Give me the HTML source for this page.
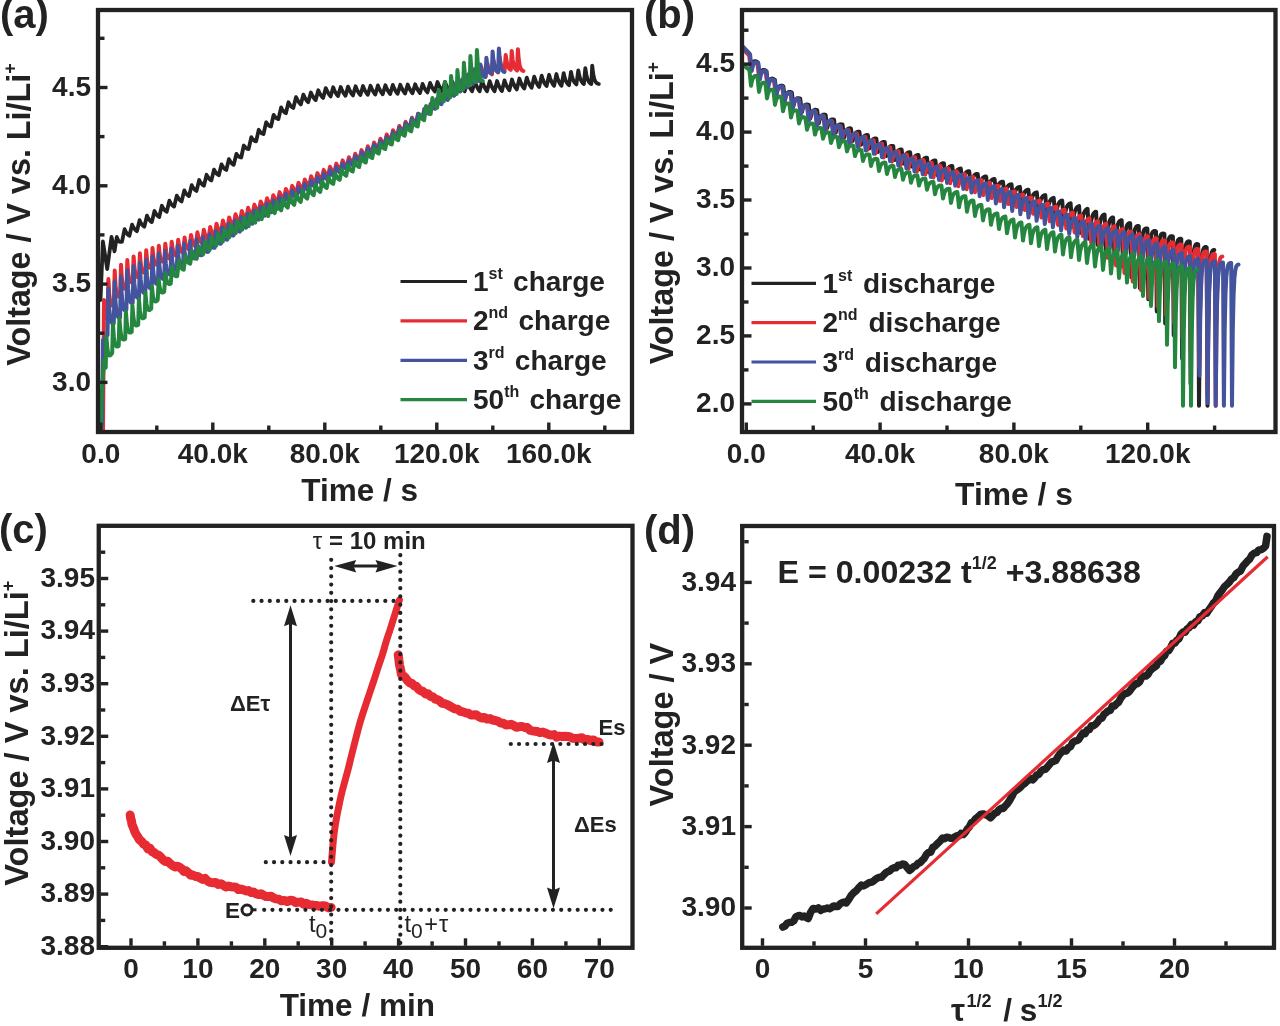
<!DOCTYPE html>
<html><head><meta charset="utf-8"><style>
html,body{margin:0;padding:0;background:#fff;width:1280px;height:1026px;overflow:hidden;position:relative}
text{font-family:"Liberation Sans", sans-serif}
</style></head><body>
<div id="wrap" style="position:absolute;left:0;top:0;width:1280px;height:1026px;will-change:transform">
<svg width="1280" height="1026" viewBox="0 0 1280 1026" style="display:block">
<g font-family='"Liberation Sans", sans-serif' fill="#222">
<defs><clipPath id="ca"><rect x="100" y="12" width="530" height="418"/></clipPath><clipPath id="cb"><rect x="744" y="12" width="529" height="418"/></clipPath></defs>
<g clip-path="url(#ca)">
<path d="M100.5 300.0 L102.9 241.5 L107.2 269.0 L111.5 237.0 L114.5 251.3 L116.8 237.0 L117.6 239.3 L118.5 240.8 L119.4 241.6 L120.2 241.9 L121.1 241.9 L122.0 241.6 L122.0 241.6 L124.6 229.2 L125.4 230.9 L126.2 232.4 L127.0 233.5 L127.8 234.5 L128.6 235.2 L129.4 235.8 L129.4 235.8 L132.1 224.7 L132.9 226.4 L133.7 227.8 L134.5 228.9 L135.3 229.9 L136.1 230.6 L136.9 231.2 L136.9 231.2 L139.6 220.2 L140.3 221.9 L141.1 223.2 L141.9 224.4 L142.7 225.3 L143.5 226.1 L144.3 226.7 L144.3 226.7 L147.0 215.7 L147.8 217.4 L148.6 218.7 L149.4 219.9 L150.2 220.8 L151.0 221.6 L151.8 222.1 L151.8 222.1 L154.5 211.0 L155.2 212.5 L156.0 213.8 L156.8 214.9 L157.6 215.7 L158.4 216.4 L159.2 217.0 L159.2 217.0 L161.9 205.8 L162.7 207.4 L163.5 208.7 L164.3 209.7 L165.1 210.6 L165.9 211.2 L166.7 211.8 L166.7 211.8 L169.4 200.7 L170.1 202.2 L170.9 203.5 L171.7 204.6 L172.5 205.4 L173.3 206.1 L174.1 206.6 L174.1 206.6 L176.8 195.6 L177.6 197.1 L178.4 198.4 L179.2 199.4 L180.0 200.2 L180.8 200.9 L181.6 201.4 L181.6 201.4 L184.3 190.4 L185.0 191.9 L185.8 193.1 L186.6 194.2 L187.4 195.0 L188.2 195.6 L189.0 196.1 L189.0 196.1 L191.7 185.2 L192.5 186.7 L193.3 187.9 L194.1 188.9 L194.9 189.7 L195.7 190.4 L196.5 190.9 L196.5 190.9 L199.2 180.0 L199.9 181.5 L200.7 182.7 L201.5 183.7 L202.3 184.5 L203.1 185.2 L203.9 185.7 L203.9 185.7 L206.6 174.8 L207.4 176.3 L208.2 177.5 L209.0 178.5 L209.8 179.3 L210.6 180.0 L211.4 180.4 L211.4 180.4 L214.0 169.6 L214.8 171.1 L215.6 172.3 L216.4 173.3 L217.2 174.1 L218.0 174.7 L218.8 175.2 L218.8 175.2 L221.5 164.4 L222.3 165.8 L223.1 167.1 L223.9 168.1 L224.7 168.9 L225.5 169.5 L226.3 170.0 L226.3 170.0 L228.9 159.1 L229.7 160.6 L230.5 161.9 L231.3 162.9 L232.1 163.7 L232.9 164.3 L233.7 164.8 L233.7 164.8 L236.4 153.9 L237.2 155.0 L238.0 155.9 L238.8 156.6 L239.6 157.0 L240.4 157.3 L241.2 157.5 L241.2 157.5 L243.8 145.5 L244.6 146.6 L245.4 147.5 L246.2 148.1 L247.0 148.6 L247.8 148.9 L248.6 149.1 L248.6 149.1 L251.3 137.2 L252.1 138.4 L252.9 139.4 L253.7 140.2 L254.5 140.8 L255.3 141.2 L256.1 141.4 L256.1 141.4 L258.7 129.8 L259.5 131.0 L260.3 132.0 L261.1 132.8 L261.9 133.3 L262.7 133.7 L263.5 134.0 L263.5 134.0 L266.2 122.3 L267.0 123.5 L267.8 124.5 L268.6 125.3 L269.4 125.9 L270.2 126.3 L271.0 126.5 L271.0 126.5 L273.6 114.9 L274.4 116.1 L275.2 117.1 L276.0 117.9 L276.8 118.4 L277.6 118.8 L278.4 119.1 L278.4 119.1 L281.1 107.4 L281.9 108.9 L282.7 110.2 L283.5 111.2 L284.3 112.0 L285.1 112.7 L285.9 113.2 L285.9 113.2 L288.5 102.3 L289.3 103.8 L290.1 105.0 L290.9 106.1 L291.7 106.9 L292.5 107.5 L293.3 108.0 L293.3 108.0 L296.0 97.2 L296.8 98.7 L297.6 100.2 L298.4 101.5 L299.2 102.6 L300.0 103.6 L300.8 104.4 L300.8 104.4 L303.4 94.6 L304.2 96.4 L305.0 98.0 L305.8 99.3 L306.6 100.5 L307.4 101.4 L308.2 102.2 L308.2 102.2 L310.9 92.5 L311.7 94.3 L312.5 95.8 L313.3 97.2 L314.1 98.3 L314.9 99.3 L315.7 100.1 L315.7 100.1 L318.3 90.3 L319.1 92.1 L319.9 93.7 L320.7 95.0 L321.5 96.1 L322.3 97.1 L323.1 97.9 L323.1 97.9 L325.8 88.1 L326.6 89.9 L327.4 91.5 L328.2 92.9 L329.0 94.2 L329.8 95.4 L330.6 96.4 L330.6 96.4 L333.2 87.3 L334.0 89.3 L334.8 91.0 L335.6 92.6 L336.4 93.9 L337.2 95.1 L338.0 96.1 L338.0 96.1 L340.7 87.0 L341.5 89.0 L342.3 90.7 L343.1 92.2 L343.9 93.6 L344.7 94.7 L345.5 95.8 L345.5 95.8 L348.1 86.6 L348.9 88.6 L349.7 90.4 L350.5 91.9 L351.3 93.3 L352.1 94.4 L352.9 95.4 L352.9 95.4 L355.6 86.3 L356.4 88.3 L357.2 90.1 L358.0 91.6 L358.8 92.9 L359.6 94.1 L360.4 95.1 L360.4 95.1 L363.0 86.0 L363.8 88.0 L364.6 89.8 L365.4 91.3 L366.2 92.6 L367.0 93.8 L367.8 94.8 L367.8 94.8 L370.5 85.7 L371.3 87.7 L372.1 89.4 L372.9 91.0 L373.7 92.3 L374.5 93.5 L375.3 94.5 L375.3 94.5 L377.9 85.4 L378.7 87.4 L379.5 89.2 L380.3 90.7 L381.1 92.1 L381.9 93.2 L382.7 94.3 L382.7 94.3 L385.4 85.2 L386.2 87.2 L387.0 88.9 L387.8 90.5 L388.6 91.8 L389.4 93.0 L390.2 94.0 L390.2 94.0 L392.8 84.9 L393.6 86.9 L394.4 88.7 L395.2 90.2 L396.0 91.6 L396.8 92.8 L397.6 93.8 L397.6 93.8 L400.3 84.7 L401.1 86.7 L401.9 88.5 L402.7 90.0 L403.5 91.3 L404.3 92.5 L405.1 93.5 L405.1 93.5 L407.7 84.5 L408.5 86.5 L409.3 88.2 L410.1 89.8 L410.9 91.1 L411.7 92.3 L412.5 93.3 L412.5 93.3 L415.2 84.2 L416.0 86.2 L416.8 88.0 L417.6 89.5 L418.4 90.9 L419.2 92.0 L420.0 93.1 L420.0 93.1 L422.6 83.9 L423.4 85.9 L424.2 87.6 L425.0 89.0 L425.8 90.3 L426.6 91.4 L427.4 92.4 L427.4 92.4 L430.1 82.9 L430.9 84.9 L431.7 86.6 L432.5 88.1 L433.3 89.4 L434.1 90.5 L434.9 91.5 L434.9 91.5 L437.5 82.0 L438.3 84.1 L439.1 85.9 L439.9 87.5 L440.7 88.9 L441.5 90.2 L442.3 91.3 L442.3 91.3 L445.0 81.9 L445.8 84.0 L446.6 85.9 L447.4 87.5 L448.2 88.9 L449.0 90.2 L449.8 91.3 L449.8 91.3 L452.4 81.8 L453.2 83.9 L454.0 85.8 L454.8 87.4 L455.6 88.9 L456.4 90.2 L457.2 91.3 L457.2 91.3 L459.9 81.6 L460.7 83.8 L461.5 85.7 L462.3 87.4 L463.1 88.9 L463.9 90.1 L464.7 91.3 L464.7 91.3 L467.3 81.5 L468.1 83.7 L468.9 85.6 L469.7 87.3 L470.5 88.8 L471.3 90.1 L472.1 91.3 L472.1 91.3 L474.8 81.4 L475.6 83.6 L476.4 85.6 L477.2 87.3 L478.0 88.8 L478.8 90.1 L479.6 91.3 L479.6 91.3 L482.2 81.3 L483.0 83.5 L483.8 85.5 L484.6 87.2 L485.4 88.8 L486.2 90.1 L487.0 91.3 L487.0 91.3 L489.7 81.2 L490.5 83.5 L491.3 85.5 L492.1 87.2 L492.9 88.8 L493.7 90.1 L494.5 91.3 L494.5 91.3 L497.1 81.0 L497.9 83.4 L498.7 85.5 L499.5 87.2 L500.3 88.7 L501.1 90.0 L501.9 91.0 L501.9 91.0 L504.5 80.4 L505.3 82.8 L506.1 84.8 L507.0 86.5 L507.8 87.9 L508.6 89.2 L509.4 90.2 L509.4 90.2 L512.0 79.5 L512.8 81.9 L513.6 83.9 L514.4 85.6 L515.2 87.1 L516.0 88.3 L516.8 89.4 L516.8 89.4 L519.4 78.5 L520.2 81.0 L521.0 83.1 L521.8 84.8 L522.6 86.3 L523.5 87.5 L524.3 88.5 L524.3 88.5 L526.8 77.6 L527.6 80.1 L528.4 82.2 L529.3 84.0 L530.1 85.5 L530.9 86.7 L531.7 87.7 L531.7 87.7 L534.2 76.6 L535.1 79.2 L535.9 81.4 L536.7 83.2 L537.5 84.7 L538.3 85.9 L539.2 86.9 L539.2 86.9 L541.7 75.7 L542.5 78.4 L543.3 80.6 L544.1 82.4 L545.0 83.9 L545.8 85.1 L546.6 86.0 L546.6 86.0 L549.1 74.8 L549.9 77.6 L550.7 79.9 L551.6 81.9 L552.4 83.5 L553.2 84.8 L554.1 85.9 L554.1 85.9 L556.4 74.0 L557.2 77.2 L558.1 79.8 L559.0 81.8 L559.8 83.4 L560.7 84.7 L561.5 85.7 L561.5 85.7 L563.7 73.1 L564.6 76.9 L565.4 79.7 L566.3 81.7 L567.2 83.2 L568.1 84.4 L569.0 85.2 L569.0 85.2 L571.0 71.8 L571.9 76.0 L572.8 78.9 L573.7 81.1 L574.6 82.6 L575.5 83.6 L576.4 84.4 L576.4 84.4 L578.3 70.3 L579.2 75.1 L580.1 78.3 L581.1 80.5 L582.0 82.1 L582.9 83.2 L583.9 84.0 L583.9 84.0 L585.3 68.1 L586.3 74.4 L587.3 78.4 L588.3 80.8 L589.3 82.4 L590.3 83.4 L591.3 84.0 L591.3 84.0 L592.2 65.6 L593.3 74.5 L594.4 79.3 L595.5 81.7 L596.6 83.0 L597.7 83.7 L598.8 84.0" fill="none" stroke="#222" stroke-width="3.8" stroke-linejoin="round" stroke-linecap="round" />
<path d="M103.0 434.0 L104.0 300.0 L107.6 318.9 L108.4 278.9 L109.3 294.8 L110.2 301.5 L111.1 304.7 L112.1 305.6 L113.0 305.4 L113.9 304.6 L113.9 304.6 L114.7 270.6 L115.6 285.7 L116.5 292.7 L117.4 295.6 L118.4 296.6 L119.3 296.4 L120.2 295.8 L120.2 295.8 L121.0 264.7 L121.9 278.6 L122.8 285.1 L123.7 287.9 L124.7 288.8 L125.6 288.7 L126.5 288.2 L126.5 288.2 L127.3 260.1 L128.2 272.8 L129.1 278.7 L130.0 281.2 L131.0 282.2 L131.9 282.3 L132.8 281.9 L132.8 281.9 L133.6 256.4 L134.5 268.1 L135.4 273.6 L136.3 276.1 L137.3 277.0 L138.2 277.2 L139.1 276.9 L139.1 276.9 L139.9 253.3 L140.8 264.2 L141.7 269.4 L142.6 271.6 L143.6 272.4 L144.5 272.4 L145.4 272.1 L145.4 272.1 L146.2 250.3 L147.1 260.2 L148.0 264.8 L148.9 267.0 L149.9 267.7 L150.8 268.0 L151.7 267.8 L151.7 267.8 L152.5 247.9 L153.4 257.2 L154.3 261.7 L155.2 263.8 L156.2 264.6 L157.1 264.8 L158.0 264.7 L158.0 264.7 L158.8 245.8 L159.7 254.4 L160.6 258.6 L161.6 260.6 L162.5 261.5 L163.4 261.7 L164.3 261.6 L164.3 261.6 L165.3 243.7 L166.2 251.3 L167.0 255.4 L167.9 257.4 L168.8 258.4 L169.7 258.7 L170.6 258.7 L170.6 258.7 L171.7 241.8 L172.6 248.4 L173.4 252.1 L174.3 254.2 L175.2 255.2 L176.0 255.6 L176.9 255.6 L176.9 255.6 L178.2 239.7 L179.0 245.3 L179.8 248.7 L180.7 250.7 L181.5 251.8 L182.4 252.4 L183.2 252.6 L183.2 252.6 L184.6 237.5 L185.4 242.4 L186.2 245.6 L187.0 247.5 L187.9 248.6 L188.7 249.3 L189.5 249.5 L189.5 249.5 L191.0 234.9 L191.8 239.2 L192.6 242.1 L193.4 244.0 L194.2 245.2 L195.0 245.9 L195.8 246.2 L195.8 246.2 L197.4 232.3 L198.2 236.1 L199.0 238.7 L199.7 240.5 L200.5 241.7 L201.3 242.5 L202.1 243.0 L202.1 243.0 L203.8 229.7 L204.5 233.0 L205.3 235.4 L206.1 237.2 L206.9 238.4 L207.6 239.3 L208.4 239.8 L208.4 239.8 L210.2 226.9 L210.9 229.8 L211.7 232.0 L212.4 233.6 L213.2 234.8 L214.0 235.7 L214.7 236.3 L214.7 236.3 L216.5 223.7 L217.3 226.4 L218.0 228.5 L218.8 230.0 L219.5 231.3 L220.3 232.2 L221.0 232.8 L221.0 232.8 L222.9 220.6 L223.6 223.0 L224.3 225.0 L225.1 226.5 L225.8 227.7 L226.6 228.6 L227.3 229.3 L227.3 229.3 L229.2 217.4 L229.9 219.7 L230.7 221.5 L231.4 223.0 L232.1 224.2 L232.9 225.1 L233.6 225.8 L233.6 225.8 L235.5 214.3 L236.2 216.4 L237.0 218.2 L237.7 219.6 L238.4 220.7 L239.2 221.6 L239.9 222.3 L239.9 222.3 L241.8 211.0 L242.5 213.1 L243.3 214.8 L244.0 216.2 L244.7 217.3 L245.5 218.1 L246.2 218.8 L246.2 218.8 L248.1 207.8 L248.8 209.9 L249.6 211.5 L250.3 212.8 L251.0 213.8 L251.8 214.6 L252.5 215.2 L252.5 215.2 L254.4 204.6 L255.1 206.6 L255.9 208.1 L256.6 209.4 L257.3 210.3 L258.1 211.1 L258.8 211.7 L258.8 211.7 L260.7 201.4 L261.4 203.3 L262.2 204.8 L262.9 206.0 L263.6 206.9 L264.4 207.6 L265.1 208.2 L265.1 208.2 L267.0 198.3 L267.7 200.1 L268.5 201.6 L269.2 202.8 L269.9 203.7 L270.7 204.4 L271.4 205.0 L271.4 205.0 L273.3 195.2 L274.0 197.0 L274.8 198.4 L275.5 199.6 L276.2 200.6 L277.0 201.3 L277.7 201.9 L277.7 201.9 L279.6 192.1 L280.3 193.9 L281.1 195.3 L281.8 196.5 L282.5 197.4 L283.3 198.1 L284.0 198.7 L284.0 198.7 L285.9 189.0 L286.6 190.7 L287.4 192.2 L288.1 193.3 L288.8 194.2 L289.6 195.0 L290.3 195.5 L290.3 195.5 L292.2 185.9 L292.9 187.6 L293.7 189.0 L294.4 190.2 L295.1 191.1 L295.9 191.8 L296.6 192.3 L296.6 192.3 L298.5 182.7 L299.2 184.4 L300.0 185.8 L300.7 186.9 L301.4 187.8 L302.2 188.5 L302.9 189.0 L302.9 189.0 L304.8 179.5 L305.5 181.2 L306.3 182.6 L307.0 183.7 L307.7 184.6 L308.5 185.2 L309.2 185.8 L309.2 185.8 L311.1 176.3 L311.8 178.0 L312.6 179.4 L313.3 180.4 L314.0 181.3 L314.8 182.0 L315.5 182.5 L315.5 182.5 L317.4 173.1 L318.1 174.8 L318.9 176.1 L319.6 177.2 L320.3 178.1 L321.1 178.7 L321.8 179.2 L321.8 179.2 L323.7 169.9 L324.4 171.6 L325.2 172.9 L325.9 174.0 L326.6 174.8 L327.4 175.5 L328.1 176.0 L328.1 176.0 L330.0 166.8 L330.7 168.4 L331.5 169.7 L332.2 170.8 L332.9 171.6 L333.7 172.2 L334.4 172.7 L334.4 172.7 L336.3 163.6 L337.0 165.2 L337.8 166.5 L338.5 167.5 L339.2 168.4 L340.0 169.0 L340.7 169.5 L340.7 169.5 L342.6 160.4 L343.3 162.0 L344.1 163.3 L344.8 164.3 L345.5 165.1 L346.3 165.8 L347.0 166.2 L347.0 166.2 L348.9 157.3 L349.6 158.8 L350.4 160.0 L351.1 161.0 L351.8 161.8 L352.6 162.3 L353.3 162.8 L353.3 162.8 L355.2 153.7 L355.9 155.2 L356.7 156.5 L357.4 157.4 L358.1 158.2 L358.9 158.8 L359.6 159.2 L359.6 159.2 L361.5 150.1 L362.2 151.6 L363.0 152.8 L363.7 153.8 L364.4 154.5 L365.2 155.1 L365.9 155.5 L365.9 155.5 L367.8 146.3 L368.5 147.8 L369.3 149.0 L370.0 150.0 L370.7 150.7 L371.5 151.3 L372.2 151.7 L372.2 151.7 L374.1 142.5 L374.8 144.0 L375.6 145.2 L376.3 146.2 L377.0 146.9 L377.8 147.5 L378.5 147.9 L378.5 147.9 L380.4 138.7 L381.1 140.2 L381.9 141.3 L382.6 142.2 L383.3 142.9 L384.1 143.4 L384.8 143.8 L384.8 143.8 L386.7 134.5 L387.4 135.9 L388.2 137.1 L388.9 138.0 L389.6 138.7 L390.4 139.2 L391.1 139.5 L391.1 139.5 L393.0 130.2 L393.7 131.7 L394.5 132.8 L395.2 133.7 L395.9 134.4 L396.7 134.9 L397.4 135.2 L397.4 135.2 L399.3 126.0 L400.0 127.4 L400.8 128.6 L401.5 129.5 L402.2 130.2 L403.0 130.7 L403.7 131.1 L403.7 131.1 L405.6 121.9 L406.3 123.3 L407.1 124.5 L407.8 125.4 L408.5 126.1 L409.3 126.6 L410.0 127.0 L410.0 127.0 L411.9 117.8 L412.6 119.2 L413.4 120.4 L414.1 121.3 L414.8 122.0 L415.6 122.5 L416.3 122.9 L416.3 122.9 L418.2 113.7 L418.9 115.1 L419.7 116.3 L420.4 117.2 L421.1 117.7 L421.9 118.1 L422.6 118.4 L422.6 118.4 L424.5 108.8 L425.2 110.2 L426.0 111.2 L426.7 112.0 L427.4 112.6 L428.2 113.0 L428.9 113.3 L428.9 113.3 L430.8 103.7 L431.5 105.1 L432.3 106.1 L433.0 106.9 L433.7 107.5 L434.5 107.9 L435.2 108.1 L435.2 108.1 L437.1 98.6 L437.8 100.0 L438.6 101.0 L439.3 101.8 L440.0 102.4 L440.8 102.8 L441.5 103.1 L441.5 103.1 L443.4 93.5 L444.1 94.9 L444.9 96.1 L445.6 97.1 L446.3 97.9 L447.1 98.5 L447.8 98.9 L447.8 98.9 L449.7 89.1 L450.4 90.7 L451.2 92.0 L451.9 93.0 L452.6 93.9 L453.4 94.5 L454.1 95.0 L454.1 95.0 L456.0 84.8 L456.7 86.5 L457.5 87.8 L458.2 89.0 L458.9 89.9 L459.7 90.6 L460.4 91.1 L460.4 91.1 L462.3 80.3 L463.0 82.0 L463.8 83.5 L464.5 84.6 L465.2 85.5 L466.0 86.2 L466.7 86.7 L466.7 86.7 L468.6 75.6 L469.3 77.4 L470.1 78.9 L470.8 80.2 L471.5 81.2 L472.3 82.0 L473.0 82.7 L473.0 82.7 L474.9 70.8 L475.6 72.9 L476.4 74.6 L477.1 76.1 L477.8 77.2 L478.6 78.2 L479.3 78.9 L479.3 78.9 L481.1 66.4 L481.9 69.1 L482.6 71.2 L483.4 73.0 L484.1 74.4 L484.9 75.6 L485.6 76.5 L485.6 76.5 L487.3 63.3 L488.1 66.6 L488.8 69.1 L489.6 71.0 L490.4 72.5 L491.1 73.6 L491.9 74.4 L491.9 74.4 L493.5 60.3 L494.3 64.3 L495.0 67.1 L495.8 69.2 L496.6 70.7 L497.4 71.7 L498.2 72.4 L498.2 72.4 L499.6 57.2 L500.4 62.2 L501.2 65.6 L502.1 67.9 L502.9 69.5 L503.7 70.5 L504.5 71.2 L504.5 71.2 L505.7 55.1 L506.6 61.0 L507.4 64.7 L508.3 67.0 L509.1 68.4 L510.0 69.3 L510.8 69.8 L510.8 69.8 L511.7 50.9 L512.6 59.3 L513.5 64.1 L514.4 67.0 L515.3 68.7 L516.2 69.7 L517.1 70.4 L517.1 70.4 L517.9 49.2 L518.8 59.9 L519.7 65.5 L520.6 68.4 L521.6 69.9 L522.5 70.6 L523.4 71.0" fill="none" stroke="#e62c32" stroke-width="4.0" stroke-linejoin="round" stroke-linecap="round" />
<path d="M102.0 425.0 L103.0 340.0 L107.5 335.2 L108.3 288.7 L109.2 308.0 L110.1 316.4 L111.0 321.0 L112.0 323.0 L112.9 323.6 L113.8 323.4 L113.8 323.4 L114.6 281.5 L115.5 301.1 L116.4 310.8 L117.3 315.3 L118.3 317.2 L119.2 317.7 L120.1 317.5 L120.1 317.5 L120.9 276.6 L121.8 295.8 L122.7 305.1 L123.6 309.1 L124.6 310.4 L125.5 310.4 L126.4 309.8 L126.4 309.8 L127.2 270.3 L128.1 288.2 L129.0 296.6 L129.9 300.7 L130.9 302.5 L131.8 303.1 L132.7 303.0 L132.7 303.0 L133.5 265.9 L134.4 283.4 L135.3 292.0 L136.2 296.0 L137.2 297.6 L138.1 298.1 L139.0 298.0 L139.0 298.0 L139.8 262.8 L140.7 279.4 L141.6 287.4 L142.5 291.2 L143.5 292.7 L144.4 293.1 L145.3 293.0 L145.3 293.0 L146.1 259.7 L147.0 275.4 L147.9 283.0 L148.8 286.6 L149.8 288.0 L150.7 288.5 L151.6 288.3 L151.6 288.3 L152.4 256.6 L153.3 271.5 L154.2 278.7 L155.1 282.1 L156.1 283.5 L157.0 283.8 L157.9 283.6 L157.9 283.6 L158.7 253.5 L159.6 267.6 L160.5 274.4 L161.4 277.5 L162.4 278.7 L163.3 279.0 L164.2 278.8 L164.2 278.8 L165.0 251.0 L165.9 264.0 L166.8 270.2 L167.7 273.1 L168.7 274.2 L169.6 274.4 L170.5 274.1 L170.5 274.1 L171.3 248.5 L172.2 260.4 L173.1 266.1 L174.0 268.6 L175.0 269.6 L175.9 269.7 L176.8 269.4 L176.8 269.4 L177.6 246.0 L178.5 256.8 L179.4 261.9 L180.3 264.2 L181.3 265.2 L182.2 265.4 L183.1 265.3 L183.1 265.3 L183.9 243.5 L184.8 253.6 L185.7 258.5 L186.6 260.8 L187.6 261.6 L188.5 261.9 L189.4 261.7 L189.4 261.7 L190.2 241.1 L191.1 250.8 L192.0 255.4 L192.9 257.5 L193.9 258.4 L194.8 258.6 L195.7 258.4 L195.7 258.4 L196.5 239.0 L197.4 248.0 L198.3 252.4 L199.2 254.4 L200.2 255.1 L201.1 255.3 L202.0 255.1 L202.0 255.1 L202.9 236.8 L203.8 244.8 L204.7 248.8 L205.6 250.8 L206.5 251.7 L207.4 251.9 L208.3 251.8 L208.3 251.8 L209.4 234.3 L210.2 241.1 L211.1 244.8 L212.0 246.7 L212.9 247.6 L213.7 247.8 L214.6 247.8 L214.6 247.8 L215.7 230.8 L216.6 237.0 L217.5 240.5 L218.3 242.4 L219.2 243.4 L220.0 243.7 L220.9 243.7 L220.9 243.7 L222.1 227.4 L223.0 233.0 L223.8 236.3 L224.7 238.2 L225.5 239.2 L226.4 239.6 L227.2 239.7 L227.2 239.7 L228.5 224.0 L229.4 229.0 L230.2 232.1 L231.0 233.9 L231.9 235.0 L232.7 235.5 L233.5 235.6 L233.5 235.6 L234.9 220.6 L235.7 225.0 L236.6 227.9 L237.4 229.7 L238.2 230.8 L239.0 231.4 L239.8 231.6 L239.8 231.6 L241.3 217.2 L242.1 221.1 L242.9 223.8 L243.7 225.5 L244.5 226.6 L245.3 227.3 L246.1 227.6 L246.1 227.6 L247.7 213.8 L248.5 217.3 L249.3 219.7 L250.1 221.4 L250.8 222.5 L251.6 223.2 L252.4 223.6 L252.4 223.6 L254.1 210.5 L254.9 213.4 L255.7 215.6 L256.4 217.2 L257.2 218.4 L257.9 219.1 L258.7 219.6 L258.7 219.6 L260.5 207.1 L261.3 209.6 L262.0 211.6 L262.8 213.1 L263.5 214.2 L264.3 215.1 L265.0 215.7 L265.0 215.7 L266.9 203.7 L267.6 206.0 L268.4 207.8 L269.1 209.3 L269.8 210.5 L270.6 211.4 L271.3 212.2 L271.3 212.2 L273.2 200.4 L273.9 202.6 L274.7 204.4 L275.4 205.9 L276.1 207.0 L276.9 207.9 L277.6 208.6 L277.6 208.6 L279.5 197.1 L280.2 199.3 L281.0 201.0 L281.7 202.4 L282.4 203.5 L283.2 204.4 L283.9 205.1 L283.9 205.1 L285.8 193.8 L286.5 195.9 L287.3 197.6 L288.0 199.0 L288.7 200.0 L289.5 200.9 L290.2 201.6 L290.2 201.6 L292.1 190.5 L292.8 192.5 L293.6 194.2 L294.3 195.5 L295.0 196.5 L295.8 197.4 L296.5 198.0 L296.5 198.0 L298.4 187.1 L299.1 189.1 L299.9 190.7 L300.6 192.0 L301.3 193.0 L302.1 193.8 L302.8 194.4 L302.8 194.4 L304.7 183.7 L305.4 185.7 L306.2 187.2 L306.9 188.5 L307.6 189.5 L308.4 190.2 L309.1 190.8 L309.1 190.8 L311.0 180.4 L311.7 182.2 L312.5 183.7 L313.2 185.0 L313.9 185.9 L314.7 186.6 L315.4 187.2 L315.4 187.2 L317.3 177.0 L318.0 178.8 L318.8 180.3 L319.5 181.4 L320.2 182.4 L321.0 183.1 L321.7 183.6 L321.7 183.6 L323.6 173.6 L324.3 175.4 L325.1 176.8 L325.8 177.9 L326.5 178.8 L327.3 179.5 L328.0 180.0 L328.0 180.0 L329.9 170.2 L330.6 171.9 L331.4 173.3 L332.1 174.4 L332.8 175.3 L333.6 175.9 L334.3 176.4 L334.3 176.4 L336.2 166.9 L336.9 168.5 L337.7 169.9 L338.4 170.9 L339.1 171.7 L339.9 172.4 L340.6 172.8 L340.6 172.8 L342.5 163.5 L343.2 165.1 L344.0 166.4 L344.7 167.4 L345.4 168.2 L346.2 168.8 L346.9 169.2 L346.9 169.2 L348.8 160.1 L349.5 161.6 L350.3 162.8 L351.0 163.7 L351.7 164.5 L352.5 165.0 L353.2 165.4 L353.2 165.4 L355.1 156.2 L355.8 157.7 L356.6 158.9 L357.3 159.9 L358.0 160.6 L358.8 161.1 L359.5 161.5 L359.5 161.5 L361.4 152.4 L362.1 153.9 L362.9 155.1 L363.6 156.0 L364.3 156.7 L365.1 157.3 L365.8 157.7 L365.8 157.7 L367.7 148.5 L368.4 150.0 L369.2 151.2 L369.9 152.1 L370.6 152.8 L371.4 153.4 L372.1 153.8 L372.1 153.8 L374.0 144.6 L374.7 146.1 L375.5 147.3 L376.2 148.2 L376.9 149.0 L377.7 149.5 L378.4 149.9 L378.4 149.9 L380.3 140.7 L381.0 142.2 L381.8 143.4 L382.5 144.4 L383.2 145.1 L384.0 145.6 L384.7 146.0 L384.7 146.0 L386.6 136.9 L387.3 138.4 L388.1 139.5 L388.8 140.4 L389.5 141.0 L390.3 141.5 L391.0 141.8 L391.0 141.8 L392.9 132.4 L393.6 133.8 L394.4 134.9 L395.1 135.8 L395.8 136.4 L396.6 136.9 L397.3 137.2 L397.3 137.2 L399.2 127.8 L399.9 129.2 L400.7 130.3 L401.4 131.2 L402.1 131.8 L402.9 132.3 L403.6 132.6 L403.6 132.6 L405.5 123.2 L406.2 124.6 L407.0 125.7 L407.7 126.6 L408.4 127.2 L409.2 127.7 L409.9 128.0 L409.9 128.0 L411.8 118.6 L412.5 120.0 L413.3 121.1 L414.0 121.9 L414.7 122.6 L415.5 123.0 L416.2 123.3 L416.2 123.3 L418.1 113.9 L418.8 115.3 L419.6 116.3 L420.3 117.2 L421.0 117.8 L421.8 118.2 L422.5 118.5 L422.5 118.5 L424.4 109.1 L425.1 110.4 L425.9 111.5 L426.6 112.3 L427.3 113.0 L428.1 113.4 L428.8 113.7 L428.8 113.7 L430.7 104.2 L431.4 105.6 L432.2 106.7 L432.9 107.5 L433.6 108.1 L434.4 108.5 L435.1 108.8 L435.1 108.8 L437.0 99.4 L437.7 100.8 L438.5 101.8 L439.2 102.7 L439.9 103.3 L440.7 103.8 L441.4 104.2 L441.4 104.2 L443.3 94.5 L444.0 96.0 L444.8 97.3 L445.5 98.2 L446.2 99.0 L447.0 99.6 L447.7 100.0 L447.7 100.0 L449.6 89.5 L450.3 91.2 L451.1 92.5 L451.8 93.7 L452.5 94.5 L453.3 95.2 L454.0 95.8 L454.0 95.8 L455.9 84.4 L456.6 86.3 L457.4 87.8 L458.1 89.1 L458.8 90.1 L459.6 90.9 L460.3 91.5 L460.3 91.5 L462.2 79.3 L462.9 81.4 L463.7 83.1 L464.4 84.5 L465.1 85.7 L465.9 86.6 L466.6 87.3 L466.6 87.3 L468.4 74.3 L469.2 76.8 L469.9 78.7 L470.7 80.4 L471.4 81.8 L472.2 82.9 L472.9 83.8 L472.9 83.8 L474.5 69.3 L475.3 73.1 L476.1 75.9 L476.9 77.9 L477.6 79.4 L478.4 80.4 L479.2 81.1 L479.2 81.1 L480.4 64.5 L481.3 70.2 L482.1 73.5 L483.0 75.4 L483.8 76.4 L484.7 76.9 L485.5 76.9 L485.5 76.9 L486.4 57.7 L487.3 65.6 L488.2 69.8 L489.1 71.9 L490.0 72.8 L490.9 73.0 L491.8 72.9 L491.8 72.9 L492.6 51.4 L493.5 61.1 L494.4 66.2 L495.3 69.1 L496.3 70.6 L497.2 71.4 L498.1 71.9 L498.1 71.9 L498.9 48.4 L499.8 59.9 L500.7 66.0 L501.6 69.1 L502.6 70.7 L503.5 71.6 L504.4 72.0" fill="none" stroke="#44539d" stroke-width="4.0" stroke-linejoin="round" stroke-linecap="round" />
<path d="M100.8 432.0 L101.5 400.0 L104.0 360.0 L105.7 367.8 L106.4 336.4 L107.4 348.6 L108.3 353.9 L109.3 355.6 L110.2 355.4 L111.2 354.3 L112.2 352.8 L112.2 352.8 L112.9 324.1 L113.9 337.0 L114.8 343.0 L115.8 345.6 L116.7 346.5 L117.7 346.4 L118.7 345.9 L118.7 345.9 L119.4 317.9 L120.4 330.4 L121.3 336.3 L122.3 338.8 L123.2 339.5 L124.2 339.4 L125.2 338.9 L125.2 338.9 L125.9 311.7 L126.9 323.8 L127.8 329.5 L128.8 331.9 L129.7 332.6 L130.7 332.5 L131.7 331.9 L131.7 331.9 L132.4 305.5 L133.4 317.2 L134.3 322.6 L135.3 324.9 L136.2 325.5 L137.2 325.3 L138.2 324.7 L138.2 324.7 L138.9 299.1 L139.9 310.3 L140.8 315.5 L141.8 317.7 L142.7 318.3 L143.7 318.0 L144.7 317.4 L144.7 317.4 L145.4 292.6 L146.4 303.3 L147.3 308.1 L148.3 309.8 L149.2 310.1 L150.2 309.6 L151.2 308.7 L151.2 308.7 L151.9 286.1 L152.9 295.6 L153.8 299.8 L154.8 301.3 L155.7 301.4 L156.7 300.9 L157.7 300.0 L157.7 300.0 L158.7 279.4 L159.6 286.8 L160.5 290.6 L161.4 292.2 L162.3 292.6 L163.2 292.3 L164.2 291.7 L164.2 291.7 L165.5 273.1 L166.3 278.6 L167.2 281.7 L168.1 283.2 L168.9 283.9 L169.8 284.0 L170.7 283.7 L170.7 283.7 L172.2 266.8 L173.0 271.0 L173.8 273.6 L174.7 275.2 L175.5 276.0 L176.3 276.3 L177.2 276.3 L177.2 276.3 L178.9 260.6 L179.7 263.8 L180.5 266.2 L181.3 267.8 L182.1 268.8 L182.9 269.4 L183.7 269.7 L183.7 269.7 L185.5 255.6 L186.3 258.2 L187.1 260.2 L187.8 261.6 L188.6 262.7 L189.4 263.3 L190.2 263.7 L190.2 263.7 L192.1 250.9 L192.9 253.1 L193.6 254.8 L194.4 256.2 L195.1 257.2 L195.9 258.1 L196.7 258.7 L196.7 258.7 L198.6 246.3 L199.4 248.5 L200.1 250.2 L200.9 251.6 L201.6 252.6 L202.4 253.5 L203.2 254.1 L203.2 254.1 L205.1 241.8 L205.9 244.0 L206.6 245.8 L207.4 247.2 L208.1 248.3 L208.9 249.2 L209.7 249.9 L209.7 249.9 L211.6 237.6 L212.4 239.8 L213.1 241.6 L213.9 243.0 L214.6 244.2 L215.4 245.0 L216.2 245.7 L216.2 245.7 L218.1 233.5 L218.9 235.7 L219.6 237.4 L220.4 238.9 L221.1 240.0 L221.9 240.9 L222.7 241.6 L222.7 241.6 L224.6 229.3 L225.4 231.5 L226.1 233.3 L226.9 234.7 L227.6 235.8 L228.4 236.7 L229.2 237.4 L229.2 237.4 L231.1 225.1 L231.9 227.3 L232.6 229.1 L233.4 230.5 L234.1 231.7 L234.9 232.5 L235.7 233.2 L235.7 233.2 L237.6 221.2 L238.4 223.4 L239.1 225.3 L239.9 226.8 L240.6 228.0 L241.4 228.9 L242.2 229.7 L242.2 229.7 L244.1 217.7 L244.9 220.0 L245.6 221.8 L246.4 223.3 L247.1 224.5 L247.9 225.4 L248.7 226.1 L248.7 226.1 L250.6 214.3 L251.4 216.5 L252.1 218.3 L252.9 219.8 L253.6 221.0 L254.4 221.9 L255.2 222.6 L255.2 222.6 L257.1 210.9 L257.9 213.1 L258.6 214.9 L259.4 216.3 L260.1 217.5 L260.9 218.4 L261.7 219.1 L261.7 219.1 L263.6 207.5 L264.4 209.6 L265.1 211.5 L265.9 213.0 L266.6 214.2 L267.4 215.2 L268.2 216.0 L268.2 216.0 L270.1 204.7 L270.9 206.9 L271.6 208.7 L272.4 210.2 L273.1 211.4 L273.9 212.4 L274.7 213.2 L274.7 213.2 L276.6 202.0 L277.4 204.2 L278.1 206.0 L278.9 207.5 L279.6 208.7 L280.4 209.6 L281.2 210.4 L281.2 210.4 L283.1 199.3 L283.9 201.5 L284.6 203.2 L285.4 204.7 L286.1 205.9 L286.9 206.8 L287.7 207.6 L287.7 207.6 L289.6 196.6 L290.4 198.7 L291.1 200.5 L291.9 201.9 L292.6 203.1 L293.4 204.0 L294.2 204.8 L294.2 204.8 L296.1 193.9 L296.9 196.0 L297.6 197.8 L298.4 199.2 L299.1 200.3 L299.9 201.2 L300.7 201.9 L300.7 201.9 L302.6 190.9 L303.4 193.0 L304.1 194.6 L304.9 196.0 L305.6 197.1 L306.4 197.9 L307.2 198.6 L307.2 198.6 L309.1 187.8 L309.9 189.8 L310.6 191.4 L311.4 192.7 L312.1 193.8 L312.9 194.6 L313.7 195.2 L313.7 195.2 L315.6 184.6 L316.4 186.6 L317.1 188.2 L317.9 189.5 L318.6 190.5 L319.4 191.3 L320.2 191.9 L320.2 191.9 L322.1 181.3 L322.9 183.2 L323.6 184.7 L324.4 185.8 L325.1 186.7 L325.9 187.4 L326.7 188.0 L326.7 188.0 L328.6 177.4 L329.4 179.2 L330.1 180.7 L330.9 181.8 L331.6 182.7 L332.4 183.4 L333.2 183.9 L333.2 183.9 L335.1 173.4 L335.9 175.2 L336.6 176.7 L337.4 177.8 L338.1 178.7 L338.9 179.3 L339.7 179.8 L339.7 179.8 L341.6 169.5 L342.4 171.2 L343.1 172.7 L343.9 173.8 L344.6 174.6 L345.4 175.3 L346.2 175.8 L346.2 175.8 L348.1 165.5 L348.9 167.3 L349.6 168.6 L350.4 169.7 L351.1 170.5 L351.9 171.1 L352.7 171.5 L352.7 171.5 L354.6 161.3 L355.4 162.9 L356.1 164.2 L356.9 165.2 L357.6 166.0 L358.4 166.6 L359.2 167.0 L359.2 167.0 L361.1 156.9 L361.9 158.5 L362.6 159.8 L363.4 160.8 L364.1 161.5 L364.9 162.1 L365.7 162.5 L365.7 162.5 L367.6 152.6 L368.4 154.2 L369.1 155.4 L369.9 156.4 L370.6 157.1 L371.4 157.6 L372.2 158.0 L372.2 158.0 L374.1 148.3 L374.9 149.8 L375.6 151.0 L376.4 151.9 L377.1 152.6 L377.9 153.1 L378.7 153.5 L378.7 153.5 L380.6 143.9 L381.4 145.4 L382.1 146.6 L382.9 147.5 L383.6 148.2 L384.4 148.6 L385.2 149.0 L385.2 149.0 L387.1 139.6 L387.9 141.0 L388.6 142.2 L389.4 143.0 L390.1 143.7 L390.9 144.2 L391.7 144.5 L391.7 144.5 L393.6 135.0 L394.4 136.5 L395.1 137.6 L395.9 138.5 L396.6 139.2 L397.4 139.7 L398.2 140.1 L398.2 140.1 L400.1 130.4 L400.9 131.9 L401.6 133.1 L402.4 134.0 L403.1 134.8 L403.9 135.3 L404.7 135.7 L404.7 135.7 L406.6 125.7 L407.4 127.3 L408.1 128.5 L408.9 129.5 L409.6 130.3 L410.4 130.9 L411.2 131.3 L411.2 131.3 L413.1 121.1 L413.9 122.7 L414.6 124.0 L415.4 125.0 L416.1 125.8 L416.9 126.2 L417.7 126.4 L417.7 126.4 L419.6 114.4 L420.4 115.9 L421.1 117.2 L421.9 118.2 L422.6 119.0 L423.4 119.7 L424.2 120.1 L424.2 120.1 L426.1 106.0 L426.9 108.1 L427.6 109.8 L428.4 111.2 L429.1 112.3 L429.9 113.2 L430.7 113.9 L430.7 113.9 L432.4 97.9 L433.2 101.0 L434.0 103.4 L434.8 105.1 L435.6 106.3 L436.4 107.1 L437.2 107.6 L437.2 107.6 L438.7 89.9 L439.5 94.4 L440.3 97.5 L441.2 99.4 L442.0 100.5 L442.8 101.1 L443.7 101.3 L443.7 101.3 L444.9 82.1 L445.8 88.6 L446.7 92.6 L447.5 95.0 L448.4 96.4 L449.3 97.1 L450.2 97.4 L450.2 97.4 L451.1 75.9 L452.0 84.9 L453.0 89.7 L453.9 92.2 L454.8 93.4 L455.7 93.9 L456.7 93.9 L456.7 93.9 L457.4 70.0 L458.4 81.0 L459.3 86.3 L460.3 88.7 L461.2 89.7 L462.2 89.8 L463.2 89.6 L463.2 89.6 L463.9 62.8 L464.9 74.9 L465.8 80.9 L466.8 83.8 L467.7 85.1 L468.7 85.5 L469.7 85.4 L469.7 85.4 L470.4 56.1 L471.4 69.6 L472.3 76.4 L473.3 79.8 L474.2 81.3 L475.2 81.8 L476.2 81.9 L476.2 81.9 L476.9 50.0 L477.9 64.9 L478.8 73.0 L479.8 77.2 L480.7 79.3 L481.7 80.4 L482.7 81.0" fill="none" stroke="#25863f" stroke-width="4.0" stroke-linejoin="round" stroke-linecap="round" />
</g>
<rect x="98" y="10" width="534" height="422" fill="none" stroke="#222" stroke-width="4.3"/>
<line x1="100.8" y1="430" x2="100.8" y2="422.5" stroke="#222" stroke-width="3.4"/>
<line x1="212.8" y1="430" x2="212.8" y2="422.5" stroke="#222" stroke-width="3.4"/>
<line x1="324.8" y1="430" x2="324.8" y2="422.5" stroke="#222" stroke-width="3.4"/>
<line x1="436.8" y1="430" x2="436.8" y2="422.5" stroke="#222" stroke-width="3.4"/>
<line x1="548.8" y1="430" x2="548.8" y2="422.5" stroke="#222" stroke-width="3.4"/>
<line x1="156.8" y1="430" x2="156.8" y2="425.5" stroke="#222" stroke-width="3.4"/>
<line x1="268.8" y1="430" x2="268.8" y2="425.5" stroke="#222" stroke-width="3.4"/>
<line x1="380.8" y1="430" x2="380.8" y2="425.5" stroke="#222" stroke-width="3.4"/>
<line x1="492.8" y1="430" x2="492.8" y2="425.5" stroke="#222" stroke-width="3.4"/>
<line x1="604.8" y1="430" x2="604.8" y2="425.5" stroke="#222" stroke-width="3.4"/>
<text x="100.8" y="462.5" font-size="28" text-anchor="middle" font-weight="bold" >0.0</text>
<text x="212.8" y="462.5" font-size="28" text-anchor="middle" font-weight="bold" >40.0k</text>
<text x="324.8" y="462.5" font-size="28" text-anchor="middle" font-weight="bold" >80.0k</text>
<text x="436.8" y="462.5" font-size="28" text-anchor="middle" font-weight="bold" >120.0k</text>
<text x="548.8" y="462.5" font-size="28" text-anchor="middle" font-weight="bold" >160.0k</text>
<line x1="100" y1="382.4" x2="107.5" y2="382.4" stroke="#222" stroke-width="3.4"/>
<line x1="100" y1="284.1" x2="107.5" y2="284.1" stroke="#222" stroke-width="3.4"/>
<line x1="100" y1="185.8" x2="107.5" y2="185.8" stroke="#222" stroke-width="3.4"/>
<line x1="100" y1="87.5" x2="107.5" y2="87.5" stroke="#222" stroke-width="3.4"/>
<line x1="100" y1="333.2" x2="104.5" y2="333.2" stroke="#222" stroke-width="3.4"/>
<line x1="100" y1="234.9" x2="104.5" y2="234.9" stroke="#222" stroke-width="3.4"/>
<line x1="100" y1="136.6" x2="104.5" y2="136.6" stroke="#222" stroke-width="3.4"/>
<line x1="100" y1="38.3" x2="104.5" y2="38.3" stroke="#222" stroke-width="3.4"/>
<text x="91.0" y="390.7" font-size="28" text-anchor="end" font-weight="bold" >3.0</text>
<text x="91.0" y="292.4" font-size="28" text-anchor="end" font-weight="bold" >3.5</text>
<text x="91.0" y="194.1" font-size="28" text-anchor="end" font-weight="bold" >4.0</text>
<text x="91.0" y="95.8" font-size="28" text-anchor="end" font-weight="bold" >4.5</text>
<line x1="400.5" y1="281.5" x2="467" y2="281.5" stroke="#222" stroke-width="3.2"/>
<text x="473" y="291.0" font-size="28" font-weight="bold">1<tspan font-size="16" dy="-12">st</tspan><tspan dy="12" dx="2.5"> charge</tspan></text>
<line x1="400.5" y1="320.9" x2="467" y2="320.9" stroke="#e62c32" stroke-width="3.2"/>
<text x="473" y="330.4" font-size="28" font-weight="bold">2<tspan font-size="16" dy="-12">nd</tspan><tspan dy="12" dx="2.5"> charge</tspan></text>
<line x1="400.5" y1="360.3" x2="467" y2="360.3" stroke="#44539d" stroke-width="3.2"/>
<text x="473" y="369.8" font-size="28" font-weight="bold">3<tspan font-size="16" dy="-12">rd</tspan><tspan dy="12" dx="2.5"> charge</tspan></text>
<line x1="400.5" y1="399.7" x2="467" y2="399.7" stroke="#25863f" stroke-width="3.2"/>
<text x="473" y="409.2" font-size="28" font-weight="bold">50<tspan font-size="16" dy="-12">th</tspan><tspan dy="12" dx="2.5"> charge</tspan></text>
<text x="359.7" y="501.0" font-size="31.5" text-anchor="middle" font-weight="bold" >Time / s</text>
<text transform="translate(30.2,214.5) rotate(-90)" font-size="32.3" font-weight="bold" text-anchor="middle">Voltage / V vs. Li/Li<tspan font-size="18" dy="-14">+</tspan></text>
<text x="0.0" y="27.5" font-size="40" text-anchor="start" font-weight="bold" >(a)</text>
<g clip-path="url(#cb)">
<path d="M743.0 47.0 L749.5 53.7 L751.2 68.4 L752.0 65.0 L752.9 62.9 L753.7 61.8 L754.6 61.3 L755.4 61.2 L756.3 61.4 L757.1 61.9 L758.0 62.4 L758.0 62.4 L759.6 77.0 L760.5 73.7 L761.3 71.6 L762.2 70.5 L763.0 70.0 L763.9 69.9 L764.7 70.1 L765.6 70.6 L766.4 71.1 L766.4 71.1 L768.1 85.6 L768.9 82.3 L769.8 80.3 L770.6 79.2 L771.5 78.7 L772.3 78.6 L773.2 78.9 L774.0 79.3 L774.9 79.9 L774.9 79.9 L776.5 93.8 L777.4 90.3 L778.2 88.0 L779.1 86.7 L779.9 86.0 L780.8 85.7 L781.6 85.7 L782.5 85.8 L783.3 86.2 L783.3 86.2 L785.0 100.0 L785.8 96.5 L786.7 94.3 L787.5 93.0 L788.4 92.2 L789.2 91.9 L790.1 91.9 L790.9 92.1 L791.8 92.5 L791.8 92.5 L793.4 106.2 L794.3 102.7 L795.1 100.5 L796.0 99.2 L796.8 98.5 L797.7 98.2 L798.5 98.2 L799.4 98.4 L800.2 98.7 L800.2 98.7 L801.9 112.4 L802.7 109.0 L803.6 106.8 L804.4 105.5 L805.3 104.8 L806.1 104.5 L807.0 104.5 L807.8 104.7 L808.7 105.0 L808.7 105.0 L810.3 118.6 L811.2 115.0 L812.0 112.7 L812.9 111.2 L813.7 110.4 L814.6 110.0 L815.4 109.8 L816.3 109.9 L817.1 110.1 L817.1 110.1 L818.8 123.3 L819.6 119.8 L820.5 117.5 L821.3 116.0 L822.2 115.2 L823.0 114.8 L823.9 114.6 L824.7 114.7 L825.6 114.9 L825.6 114.9 L827.2 128.1 L828.1 124.5 L828.9 122.2 L829.8 120.8 L830.6 120.0 L831.5 119.6 L832.3 119.5 L833.2 119.5 L834.0 119.7 L834.0 119.7 L835.7 132.8 L836.5 129.3 L837.4 127.0 L838.2 125.6 L839.1 124.8 L839.9 124.4 L840.8 124.3 L841.6 124.4 L842.5 124.5 L842.5 124.5 L844.1 137.6 L845.0 134.1 L845.8 131.7 L846.7 130.2 L847.5 129.2 L848.4 128.7 L849.2 128.4 L850.1 128.3 L850.9 128.4 L850.9 128.4 L852.6 141.1 L853.4 137.5 L854.3 135.1 L855.1 133.6 L856.0 132.6 L856.8 132.1 L857.7 131.8 L858.5 131.7 L859.4 131.7 L859.4 131.7 L861.0 144.7 L861.9 141.0 L862.7 138.6 L863.6 137.0 L864.4 136.0 L865.3 135.5 L866.1 135.2 L867.0 135.1 L867.8 135.1 L867.8 135.1 L869.5 148.4 L870.3 144.6 L871.2 142.1 L872.0 140.5 L872.9 139.5 L873.7 138.9 L874.6 138.6 L875.4 138.5 L876.3 138.5 L876.3 138.5 L877.9 152.0 L878.8 148.1 L879.6 145.6 L880.5 143.9 L881.3 143.0 L882.2 142.4 L883.0 142.1 L883.9 142.0 L884.7 142.1 L884.7 142.1 L886.4 155.9 L887.2 152.0 L888.1 149.5 L888.9 147.8 L889.8 146.8 L890.6 146.2 L891.5 145.9 L892.3 145.9 L893.2 145.9 L893.2 145.9 L894.8 160.0 L895.7 156.0 L896.5 153.4 L897.4 151.7 L898.2 150.6 L899.1 150.0 L899.9 149.7 L900.8 149.6 L901.6 149.5 L901.6 149.5 L903.3 163.6 L904.1 159.4 L905.0 156.6 L905.8 154.8 L906.7 153.6 L907.5 152.9 L908.4 152.5 L909.2 152.3 L910.1 152.3 L910.1 152.3 L911.7 166.6 L912.6 162.3 L913.4 159.5 L914.3 157.6 L915.1 156.4 L916.0 155.7 L916.8 155.3 L917.7 155.0 L918.5 155.0 L918.5 155.0 L920.2 169.5 L921.0 165.2 L921.9 162.3 L922.7 160.4 L923.6 159.2 L924.4 158.4 L925.3 158.0 L926.1 157.8 L927.0 157.7 L927.0 157.7 L928.6 172.3 L929.5 167.9 L930.3 165.0 L931.2 163.1 L932.0 161.9 L932.9 161.2 L933.7 160.7 L934.6 160.5 L935.4 160.4 L935.4 160.4 L937.1 175.0 L937.9 170.7 L938.8 167.8 L939.6 165.9 L940.5 164.6 L941.3 163.9 L942.2 163.5 L943.0 163.2 L943.9 163.2 L943.9 163.2 L945.5 177.7 L946.4 173.4 L947.2 170.5 L948.1 168.6 L948.9 167.4 L949.8 166.6 L950.6 166.2 L951.5 166.0 L952.3 165.9 L952.3 165.9 L954.0 180.5 L954.8 176.1 L955.7 173.2 L956.5 171.3 L957.4 170.1 L958.2 169.4 L959.1 168.9 L959.9 168.7 L960.8 168.6 L960.8 168.6 L962.4 183.2 L963.3 178.8 L964.1 175.9 L965.0 174.0 L965.8 172.8 L966.7 172.0 L967.5 171.5 L968.4 171.3 L969.2 171.2 L969.2 171.2 L970.9 185.8 L971.7 181.4 L972.6 178.5 L973.4 176.6 L974.3 175.4 L975.1 174.6 L976.0 174.2 L976.8 173.9 L977.7 173.9 L977.7 173.9 L979.3 188.4 L980.2 184.0 L981.0 181.1 L981.9 179.2 L982.7 178.0 L983.6 177.2 L984.4 176.8 L985.3 176.5 L986.1 176.5 L986.1 176.5 L987.8 191.0 L988.6 186.6 L989.5 183.7 L990.3 181.8 L991.2 180.6 L992.0 179.8 L992.9 179.4 L993.7 179.1 L994.6 179.1 L994.6 179.1 L996.2 193.6 L997.1 189.2 L997.9 186.3 L998.8 184.4 L999.6 183.2 L1000.5 182.4 L1001.3 182.0 L1002.2 181.8 L1003.0 181.7 L1003.0 181.7 L1004.7 196.7 L1005.5 192.3 L1006.4 189.3 L1007.2 187.3 L1008.1 186.0 L1008.9 185.1 L1009.8 184.7 L1010.6 184.4 L1011.5 184.3 L1011.5 184.3 L1013.1 200.3 L1014.0 195.5 L1014.8 192.3 L1015.7 190.2 L1016.5 188.8 L1017.4 187.9 L1018.2 187.3 L1019.1 187.1 L1019.9 186.9 L1019.9 186.9 L1021.6 204.0 L1022.4 198.9 L1023.3 195.4 L1024.1 193.2 L1025.0 191.7 L1025.8 190.7 L1026.7 190.1 L1027.5 189.8 L1028.4 189.7 L1028.4 189.7 L1030.0 207.7 L1030.9 202.3 L1031.7 198.6 L1032.6 196.2 L1033.4 194.6 L1034.3 193.5 L1035.1 192.9 L1036.0 192.6 L1036.8 192.4 L1036.8 192.4 L1038.5 211.4 L1039.3 205.6 L1040.2 201.8 L1041.0 199.2 L1041.9 197.5 L1042.7 196.4 L1043.6 195.7 L1044.4 195.3 L1045.3 195.1 L1045.3 195.1 L1046.9 215.1 L1047.8 209.0 L1048.6 204.9 L1049.5 202.2 L1050.3 200.4 L1051.2 199.2 L1052.0 198.5 L1052.9 198.1 L1053.7 197.9 L1053.7 197.9 L1055.4 218.8 L1056.2 212.4 L1057.1 208.1 L1057.9 205.2 L1058.8 203.3 L1059.6 202.1 L1060.5 201.3 L1061.3 200.8 L1062.2 200.6 L1062.2 200.6 L1063.8 222.5 L1064.7 215.8 L1065.5 211.3 L1066.4 208.2 L1067.2 206.2 L1068.1 204.9 L1068.9 204.1 L1069.8 203.6 L1070.6 203.3 L1070.6 203.3 L1072.3 226.8 L1073.1 219.7 L1074.0 214.9 L1074.8 211.6 L1075.7 209.4 L1076.5 207.9 L1077.4 207.0 L1078.2 206.4 L1079.1 206.1 L1079.1 206.1 L1079.1 206.1 L1080.7 232.7 L1081.6 224.5 L1082.4 218.9 L1083.3 215.1 L1084.1 212.6 L1085.0 210.9 L1085.8 209.9 L1086.7 209.2 L1087.5 208.8 L1087.5 208.8 L1087.6 208.9 L1089.2 238.8 L1090.0 229.0 L1090.9 222.6 L1091.7 218.3 L1092.6 215.6 L1093.4 213.8 L1094.3 212.7 L1095.1 212.0 L1096.0 211.7 L1096.0 211.7 L1096.1 211.7 L1097.6 244.8 L1098.5 233.5 L1099.3 226.2 L1100.2 221.5 L1101.0 218.5 L1101.9 216.6 L1102.7 215.5 L1103.6 214.9 L1104.4 214.5 L1104.4 214.5 L1104.6 214.6 L1106.1 250.9 L1106.9 237.9 L1107.8 229.7 L1108.6 224.6 L1109.5 221.4 L1110.3 219.5 L1111.2 218.3 L1112.0 217.7 L1112.9 217.4 L1112.9 217.4 L1113.1 217.5 L1114.5 257.0 L1115.4 242.3 L1116.2 233.2 L1117.1 227.6 L1117.9 224.3 L1118.8 222.3 L1119.6 221.2 L1120.5 220.5 L1121.3 220.2 L1121.3 220.2 L1121.7 220.3 L1123.0 266.5 L1123.8 248.2 L1124.7 237.3 L1125.5 230.9 L1126.4 227.2 L1127.2 225.0 L1128.1 223.9 L1128.9 223.3 L1129.8 223.1 L1129.8 223.1 L1130.2 223.2 L1131.4 277.3 L1132.3 253.9 L1133.1 240.8 L1134.0 233.6 L1134.8 229.7 L1135.7 227.6 L1136.5 226.5 L1137.4 226.0 L1138.2 225.9 L1138.2 225.9 L1138.8 226.1 L1139.9 288.1 L1140.7 259.1 L1141.6 243.9 L1142.4 236.0 L1143.3 231.9 L1144.1 229.9 L1145.0 228.9 L1145.8 228.5 L1146.7 228.4 L1146.7 228.4 L1147.4 228.7 L1148.3 299.3 L1149.2 264.0 L1150.0 246.6 L1150.9 238.1 L1151.7 234.0 L1152.6 232.1 L1153.4 231.3 L1154.3 231.0 L1155.1 231.0 L1155.1 231.0 L1156.0 231.3 L1156.8 311.5 L1157.6 269.9 L1158.5 250.2 L1159.3 240.9 L1160.2 236.5 L1161.0 234.6 L1161.9 233.8 L1162.7 233.6 L1163.6 233.6 L1163.6 233.6 L1164.4 233.9 L1165.2 323.4 L1166.1 276.9 L1166.9 254.8 L1167.8 244.4 L1168.6 239.6 L1169.5 237.4 L1170.3 236.5 L1171.2 236.2 L1172.0 236.2 L1172.0 236.2 L1172.9 236.4 L1173.7 335.3 L1174.5 283.8 L1175.4 259.6 L1176.2 248.1 L1177.1 242.7 L1177.9 240.3 L1178.8 239.2 L1179.6 238.8 L1180.5 238.8 L1180.5 238.8 L1181.3 239.0 L1182.1 358.6 L1183.0 296.8 L1183.8 267.2 L1184.7 253.1 L1185.5 246.4 L1186.4 243.3 L1187.2 242.0 L1188.1 241.5 L1188.9 241.3 L1188.9 241.3 L1189.8 241.6 L1190.6 384.1 L1191.4 310.2 L1192.3 274.8 L1193.1 258.0 L1194.0 250.1 L1194.8 246.4 L1195.7 244.7 L1196.5 244.1 L1197.4 244.0 L1197.4 244.0 L1198.2 244.3 L1199.0 405.7 L1199.9 320.6 L1200.7 280.7 L1201.6 262.0 L1202.4 253.4 L1203.3 249.4 L1204.1 247.8 L1205.0 247.1 L1205.8 247.0 L1205.8 247.0 L1206.7 247.3 L1207.5 405.7 L1208.3 322.2 L1209.2 283.0 L1210.0 264.7 L1210.9 256.2 L1211.7 252.4 L1212.6 250.7 L1213.4 250.1 L1214.3 250.0" fill="none" stroke="#222" stroke-width="4.0" stroke-linejoin="round" stroke-linecap="round" />
<path d="M743.0 49.0 L749.2 55.5 L750.9 70.1 L751.7 66.7 L752.6 64.7 L753.4 63.5 L754.2 63.0 L755.1 62.9 L755.9 63.1 L756.7 63.5 L757.5 64.1 L757.5 64.1 L759.2 78.7 L760.0 75.3 L760.9 73.2 L761.7 72.1 L762.5 71.6 L763.4 71.5 L764.2 71.7 L765.0 72.1 L765.8 72.7 L765.8 72.7 L767.5 87.2 L768.3 83.8 L769.2 81.8 L770.0 80.7 L770.8 80.2 L771.7 80.1 L772.5 80.3 L773.3 80.8 L774.1 81.3 L774.1 81.3 L775.8 95.5 L776.6 91.9 L777.5 89.7 L778.3 88.3 L779.1 87.6 L780.0 87.3 L780.8 87.3 L781.6 87.5 L782.4 87.8 L782.4 87.8 L784.1 101.6 L784.9 98.1 L785.8 95.9 L786.6 94.5 L787.4 93.8 L788.3 93.5 L789.1 93.5 L789.9 93.7 L790.7 94.0 L790.7 94.0 L792.4 107.8 L793.2 104.3 L794.1 102.1 L794.9 100.7 L795.7 100.0 L796.6 99.7 L797.4 99.7 L798.2 99.9 L799.0 100.2 L799.0 100.2 L800.7 113.9 L801.5 110.4 L802.4 108.2 L803.2 106.9 L804.0 106.2 L804.9 105.9 L805.7 105.9 L806.5 106.1 L807.3 106.4 L807.3 106.4 L809.0 120.1 L809.8 116.6 L810.7 114.3 L811.5 112.9 L812.3 112.0 L813.2 111.6 L814.0 111.4 L814.8 111.5 L815.6 111.7 L815.6 111.7 L817.3 125.0 L818.1 121.4 L819.0 119.1 L819.8 117.6 L820.6 116.8 L821.5 116.4 L822.3 116.2 L823.1 116.3 L823.9 116.5 L823.9 116.5 L825.6 129.7 L826.4 126.1 L827.3 123.8 L828.1 122.4 L828.9 121.6 L829.8 121.2 L830.6 121.0 L831.4 121.1 L832.2 121.3 L832.2 121.3 L833.9 134.4 L834.7 130.9 L835.6 128.6 L836.4 127.2 L837.2 126.4 L838.1 126.0 L838.9 125.8 L839.7 125.9 L840.5 126.1 L840.5 126.1 L842.2 139.1 L843.0 135.6 L843.9 133.4 L844.7 132.0 L845.5 131.1 L846.4 130.5 L847.2 130.2 L848.0 130.2 L848.8 130.2 L848.8 130.2 L850.5 142.9 L851.3 139.3 L852.2 136.9 L853.0 135.4 L853.8 134.4 L854.7 133.9 L855.5 133.6 L856.3 133.5 L857.1 133.6 L857.1 133.6 L858.8 146.5 L859.6 142.8 L860.5 140.4 L861.3 138.8 L862.1 137.9 L863.0 137.3 L863.8 137.0 L864.6 136.9 L865.4 137.0 L865.4 137.0 L867.1 150.1 L867.9 146.4 L868.8 143.9 L869.6 142.3 L870.4 141.3 L871.3 140.7 L872.1 140.4 L872.9 140.3 L873.7 140.3 L873.7 140.3 L875.4 153.7 L876.2 149.9 L877.1 147.4 L877.9 145.7 L878.7 144.7 L879.6 144.1 L880.4 143.8 L881.2 143.7 L882.0 143.8 L882.0 143.8 L883.7 157.5 L884.5 153.7 L885.4 151.1 L886.2 149.5 L887.0 148.5 L887.9 147.9 L888.7 147.6 L889.5 147.5 L890.3 147.6 L890.3 147.6 L892.0 161.5 L892.8 157.6 L893.7 155.0 L894.5 153.3 L895.3 152.3 L896.2 151.7 L897.0 151.4 L897.8 151.3 L898.6 151.4 L898.6 151.4 L900.3 165.5 L901.1 161.4 L902.0 158.7 L902.8 156.9 L903.6 155.7 L904.5 155.0 L905.3 154.6 L906.1 154.4 L906.9 154.4 L906.9 154.4 L908.6 168.6 L909.4 164.4 L910.3 161.6 L911.1 159.7 L911.9 158.6 L912.8 157.8 L913.6 157.4 L914.4 157.2 L915.2 157.2 L915.2 157.2 L916.9 171.7 L917.7 167.4 L918.6 164.5 L919.4 162.6 L920.2 161.4 L921.1 160.7 L921.9 160.3 L922.7 160.1 L923.5 160.0 L923.5 160.0 L925.2 174.6 L926.0 170.3 L926.9 167.4 L927.7 165.5 L928.5 164.3 L929.4 163.5 L930.2 163.1 L931.0 162.9 L931.8 162.8 L931.8 162.8 L933.5 177.5 L934.3 173.2 L935.2 170.2 L936.0 168.3 L936.8 167.1 L937.7 166.3 L938.5 165.9 L939.3 165.7 L940.1 165.6 L940.1 165.6 L941.8 180.4 L942.6 176.0 L943.5 173.1 L944.3 171.2 L945.1 169.9 L946.0 169.2 L946.8 168.7 L947.6 168.5 L948.4 168.5 L948.4 168.5 L950.1 183.3 L950.9 178.9 L951.8 176.0 L952.6 174.0 L953.4 172.8 L954.3 172.0 L955.1 171.6 L955.9 171.4 L956.7 171.3 L956.7 171.3 L958.4 186.2 L959.2 181.8 L960.1 178.8 L960.9 176.9 L961.7 175.6 L962.6 174.9 L963.4 174.4 L964.2 174.2 L965.0 174.2 L965.0 174.2 L966.7 189.2 L967.5 184.7 L968.4 181.7 L969.2 179.8 L970.0 178.5 L970.9 177.8 L971.7 177.3 L972.5 177.1 L973.3 177.1 L973.3 177.1 L975.0 192.2 L975.8 187.7 L976.7 184.7 L977.5 182.7 L978.3 181.4 L979.2 180.7 L980.0 180.2 L980.8 180.0 L981.6 179.9 L981.6 179.9 L983.3 195.1 L984.1 190.6 L985.0 187.6 L985.8 185.6 L986.6 184.4 L987.5 183.6 L988.3 183.1 L989.1 182.9 L989.9 182.8 L989.9 182.8 L991.6 198.1 L992.4 193.6 L993.3 190.5 L994.1 188.5 L994.9 187.3 L995.8 186.5 L996.6 186.0 L997.4 185.8 L998.2 185.7 L998.2 185.7 L999.9 201.1 L1000.7 196.5 L1001.6 193.5 L1002.4 191.5 L1003.2 190.2 L1004.1 189.4 L1004.9 188.9 L1005.7 188.7 L1006.5 188.6 L1006.5 188.6 L1008.2 204.1 L1009.0 199.5 L1009.9 196.4 L1010.7 194.4 L1011.5 193.1 L1012.4 192.3 L1013.2 191.8 L1014.0 191.6 L1014.8 191.5 L1014.8 191.5 L1016.5 207.0 L1017.3 202.4 L1018.2 199.3 L1019.0 197.3 L1019.8 196.0 L1020.7 195.2 L1021.5 194.8 L1022.3 194.6 L1023.1 194.5 L1023.1 194.5 L1024.8 210.1 L1025.6 205.5 L1026.5 202.4 L1027.3 200.4 L1028.1 199.1 L1029.0 198.3 L1029.8 197.8 L1030.6 197.6 L1031.4 197.5 L1031.4 197.5 L1033.1 213.8 L1033.9 209.0 L1034.8 205.8 L1035.6 203.6 L1036.4 202.2 L1037.3 201.4 L1038.1 200.9 L1038.9 200.6 L1039.7 200.5 L1039.7 200.5 L1041.4 217.5 L1042.2 212.5 L1043.1 209.1 L1043.9 206.8 L1044.7 205.4 L1045.6 204.5 L1046.4 203.9 L1047.2 203.7 L1048.0 203.6 L1048.0 203.6 L1049.7 221.2 L1050.5 216.0 L1051.4 212.4 L1052.2 210.1 L1053.0 208.5 L1053.9 207.6 L1054.7 207.0 L1055.5 206.7 L1056.3 206.6 L1056.3 206.6 L1058.0 224.9 L1058.8 219.4 L1059.7 215.7 L1060.5 213.3 L1061.3 211.7 L1062.2 210.7 L1063.0 210.1 L1063.8 209.7 L1064.6 209.6 L1064.6 209.6 L1066.3 228.6 L1067.1 222.9 L1068.0 219.1 L1068.8 216.5 L1069.6 214.8 L1070.5 213.8 L1071.3 213.1 L1072.1 212.8 L1072.9 212.6 L1072.9 212.6 L1074.6 232.4 L1075.4 226.4 L1076.3 222.4 L1077.1 219.7 L1077.9 218.0 L1078.8 216.9 L1079.6 216.2 L1080.4 215.8 L1081.2 215.6 L1081.2 215.6 L1082.9 236.1 L1083.7 229.9 L1084.6 225.7 L1085.4 223.0 L1086.2 221.2 L1087.1 220.0 L1087.9 219.2 L1088.7 218.7 L1089.5 218.4 L1089.5 218.4 L1091.2 242.7 L1092.0 235.5 L1092.9 230.5 L1093.7 227.0 L1094.5 224.7 L1095.4 223.1 L1096.2 222.1 L1097.0 221.5 L1097.8 221.1 L1097.8 221.1 L1097.9 221.1 L1099.5 250.2 L1100.3 240.9 L1101.2 234.7 L1102.0 230.5 L1102.8 227.8 L1103.7 226.0 L1104.5 224.8 L1105.3 224.1 L1106.1 223.7 L1106.1 223.7 L1106.3 223.8 L1107.8 257.8 L1108.6 246.1 L1109.5 238.5 L1110.3 233.6 L1111.1 230.5 L1112.0 228.6 L1112.8 227.4 L1113.6 226.7 L1114.4 226.3 L1114.4 226.3 L1114.7 226.4 L1116.1 265.4 L1116.9 251.0 L1117.8 242.1 L1118.6 236.6 L1119.4 233.2 L1120.3 231.1 L1121.1 229.9 L1121.9 229.3 L1122.7 229.0 L1122.7 229.0 L1123.0 229.1 L1124.4 273.0 L1125.2 255.8 L1126.1 245.5 L1126.9 239.3 L1127.7 235.7 L1128.6 233.6 L1129.4 232.5 L1130.2 231.9 L1131.0 231.6 L1131.0 231.6 L1131.4 231.7 L1132.7 281.4 L1133.5 260.7 L1134.4 248.8 L1135.2 242.1 L1136.0 238.2 L1136.9 236.1 L1137.7 234.9 L1138.5 234.4 L1139.3 234.1 L1139.3 234.1 L1139.8 234.2 L1141.0 289.9 L1141.8 265.2 L1142.7 251.6 L1143.5 244.1 L1144.3 240.1 L1145.2 238.0 L1146.0 236.9 L1146.8 236.4 L1147.6 236.2 L1147.6 236.2 L1148.2 236.4 L1149.3 298.2 L1150.1 269.2 L1151.0 253.9 L1151.8 246.0 L1152.6 241.9 L1153.5 239.8 L1154.3 238.9 L1155.1 238.4 L1155.9 238.3 L1155.9 238.3 L1156.7 238.5 L1157.6 306.5 L1158.4 272.9 L1159.3 256.1 L1160.1 247.8 L1160.9 243.7 L1161.8 241.7 L1162.6 240.8 L1163.4 240.5 L1164.2 240.4 L1164.2 240.4 L1165.1 240.6 L1165.9 314.8 L1166.7 276.4 L1167.6 258.1 L1168.4 249.5 L1169.2 245.4 L1170.1 243.6 L1170.9 242.8 L1171.7 242.5 L1172.5 242.5 L1172.5 242.5 L1173.4 242.7 L1174.2 323.2 L1175.0 281.6 L1175.9 261.7 L1176.7 252.3 L1177.5 247.8 L1178.4 245.8 L1179.2 245.0 L1180.0 244.7 L1180.8 244.6 L1180.8 244.6 L1181.7 244.8 L1182.5 338.1 L1183.3 289.7 L1184.2 266.6 L1185.0 255.7 L1185.8 250.5 L1186.7 248.2 L1187.5 247.2 L1188.3 246.8 L1189.1 246.7 L1189.1 246.7 L1190.0 246.9 L1190.8 353.0 L1191.6 297.8 L1192.5 271.6 L1193.3 259.1 L1194.1 253.3 L1195.0 250.6 L1195.8 249.4 L1196.6 249.0 L1197.4 248.9 L1197.4 248.9 L1198.3 249.2 L1199.1 368.0 L1199.9 306.1 L1200.8 276.9 L1201.6 263.0 L1202.4 256.4 L1203.3 253.4 L1204.1 252.1 L1204.9 251.5 L1205.7 251.4 L1205.7 251.4 L1206.6 251.7 L1207.4 393.1 L1208.2 319.8 L1209.1 284.7 L1209.9 268.0 L1210.7 260.1 L1211.6 256.4 L1212.4 254.8 L1213.2 254.1 L1214.0 253.9 L1214.0 253.9 L1214.9 254.2 L1215.7 405.7 L1216.5 325.9 L1217.4 288.4 L1218.2 270.9 L1219.0 262.8 L1219.9 259.1 L1220.7 257.5 L1221.5 256.8 L1222.3 256.6" fill="none" stroke="#e62c32" stroke-width="4.0" stroke-linejoin="round" stroke-linecap="round" />
<path d="M743.0 47.0 L750.1 54.5 L751.7 71.1 L752.6 67.1 L753.4 64.6 L754.2 63.1 L755.0 62.4 L755.8 62.2 L756.6 62.3 L757.4 62.7 L758.3 63.2 L758.3 63.2 L759.9 79.6 L760.7 75.6 L761.5 73.2 L762.3 71.7 L763.1 71.0 L763.9 70.8 L764.8 70.9 L765.6 71.3 L766.4 71.8 L766.4 71.8 L768.0 88.1 L768.8 84.2 L769.6 81.7 L770.5 80.3 L771.3 79.6 L772.1 79.4 L772.9 79.6 L773.7 79.9 L774.5 80.4 L774.5 80.4 L776.2 96.3 L777.0 92.1 L777.8 89.5 L778.6 87.9 L779.4 87.0 L780.2 86.5 L781.0 86.4 L781.9 86.6 L782.7 86.9 L782.7 86.9 L784.3 102.4 L785.1 98.3 L785.9 95.7 L786.7 94.1 L787.6 93.2 L788.4 92.8 L789.2 92.7 L790.0 92.9 L790.8 93.2 L790.8 93.2 L792.4 108.5 L793.3 104.5 L794.1 101.9 L794.9 100.4 L795.7 99.5 L796.5 99.1 L797.3 99.0 L798.1 99.1 L799.0 99.4 L799.0 99.4 L800.6 114.7 L801.4 110.7 L802.2 108.2 L803.0 106.6 L803.8 105.7 L804.6 105.4 L805.5 105.3 L806.3 105.4 L807.1 105.7 L807.1 105.7 L808.7 120.8 L809.5 116.8 L810.3 114.3 L811.2 112.6 L812.0 111.7 L812.8 111.1 L813.6 110.9 L814.4 111.0 L815.2 111.1 L815.2 111.1 L816.9 125.7 L817.7 121.7 L818.5 119.1 L819.3 117.5 L820.1 116.5 L820.9 116.0 L821.7 115.8 L822.6 115.8 L823.4 116.0 L823.4 116.0 L825.0 130.4 L825.8 126.4 L826.6 123.9 L827.4 122.3 L828.3 121.4 L829.1 120.9 L829.9 120.7 L830.7 120.7 L831.5 120.9 L831.5 120.9 L833.1 135.0 L834.0 131.2 L834.8 128.7 L835.6 127.1 L836.4 126.2 L837.2 125.7 L838.0 125.6 L838.8 125.6 L839.7 125.8 L839.7 125.8 L841.3 139.7 L842.1 135.9 L842.9 133.5 L843.7 132.0 L844.5 131.1 L845.3 130.6 L846.2 130.3 L847.0 130.2 L847.8 130.2 L847.8 130.2 L849.4 143.7 L850.2 139.8 L851.0 137.3 L851.9 135.7 L852.7 134.7 L853.5 134.1 L854.3 133.8 L855.1 133.7 L855.9 133.8 L855.9 133.8 L857.6 147.0 L858.4 143.2 L859.2 140.8 L860.0 139.2 L860.8 138.2 L861.6 137.6 L862.4 137.3 L863.3 137.3 L864.1 137.3 L864.1 137.3 L865.7 150.4 L866.5 146.7 L867.3 144.2 L868.1 142.7 L869.0 141.7 L869.8 141.1 L870.6 140.9 L871.4 140.8 L872.2 140.9 L872.2 140.9 L873.8 153.7 L874.7 150.1 L875.5 147.7 L876.3 146.1 L877.1 145.2 L877.9 144.7 L878.7 144.4 L879.5 144.4 L880.4 144.4 L880.4 144.4 L882.0 157.3 L882.8 153.7 L883.6 151.4 L884.4 149.9 L885.2 149.0 L886.0 148.5 L886.9 148.3 L887.7 148.3 L888.5 148.4 L888.5 148.4 L890.1 161.3 L890.9 157.7 L891.7 155.4 L892.6 153.9 L893.4 153.0 L894.2 152.5 L895.0 152.3 L895.8 152.3 L896.6 152.4 L896.6 152.4 L898.3 165.4 L899.1 161.8 L899.9 159.4 L900.7 157.8 L901.5 156.8 L902.3 156.1 L903.1 155.8 L904.0 155.6 L904.8 155.6 L904.8 155.6 L906.4 168.5 L907.2 164.7 L908.0 162.2 L908.8 160.6 L909.7 159.5 L910.5 158.9 L911.3 158.6 L912.1 158.4 L912.9 158.4 L912.9 158.4 L914.5 171.4 L915.4 167.6 L916.2 165.0 L917.0 163.4 L917.8 162.3 L918.6 161.7 L919.4 161.3 L920.2 161.2 L921.1 161.2 L921.1 161.2 L922.7 174.2 L923.5 170.4 L924.3 167.8 L925.1 166.2 L925.9 165.1 L926.7 164.5 L927.6 164.1 L928.4 163.9 L929.2 163.9 L929.2 163.9 L930.8 177.1 L931.6 173.2 L932.4 170.7 L933.3 169.0 L934.1 167.9 L934.9 167.2 L935.7 166.9 L936.5 166.7 L937.3 166.7 L937.3 166.7 L939.0 180.0 L939.8 176.1 L940.6 173.5 L941.4 171.8 L942.2 170.7 L943.0 170.0 L943.8 169.7 L944.7 169.5 L945.5 169.5 L945.5 169.5 L947.1 182.9 L947.9 178.9 L948.7 176.3 L949.5 174.6 L950.4 173.5 L951.2 172.8 L952.0 172.4 L952.8 172.3 L953.6 172.2 L953.6 172.2 L955.2 185.7 L956.1 181.7 L956.9 179.1 L957.7 177.4 L958.5 176.3 L959.3 175.6 L960.1 175.2 L960.9 175.0 L961.8 175.0 L961.8 175.0 L963.4 188.9 L964.2 184.9 L965.0 182.1 L965.8 180.3 L966.6 179.2 L967.4 178.5 L968.3 178.1 L969.1 177.9 L969.9 177.8 L969.9 177.8 L971.5 192.6 L972.3 188.2 L973.1 185.3 L974.0 183.4 L974.8 182.1 L975.6 181.4 L976.4 180.9 L977.2 180.7 L978.0 180.6 L978.0 180.6 L979.7 196.2 L980.5 191.6 L981.3 188.5 L982.1 186.4 L982.9 185.1 L983.7 184.2 L984.5 183.8 L985.4 183.5 L986.2 183.4 L986.2 183.4 L987.8 199.9 L988.6 195.0 L989.4 191.7 L990.2 189.5 L991.1 188.0 L991.9 187.1 L992.7 186.6 L993.5 186.3 L994.3 186.2 L994.3 186.2 L995.9 203.5 L996.8 198.4 L997.6 194.9 L998.4 192.5 L999.2 191.0 L1000.0 190.0 L1000.8 189.5 L1001.6 189.1 L1002.5 189.0 L1002.5 189.0 L1004.1 207.2 L1004.9 201.7 L1005.7 198.0 L1006.5 195.6 L1007.3 194.0 L1008.1 192.9 L1009.0 192.3 L1009.8 192.0 L1010.6 191.8 L1010.6 191.8 L1012.2 210.9 L1013.0 205.1 L1013.8 201.2 L1014.7 198.6 L1015.5 196.9 L1016.3 195.8 L1017.1 195.2 L1017.9 194.8 L1018.7 194.7 L1018.7 194.7 L1020.4 214.3 L1021.2 208.4 L1022.0 204.5 L1022.8 201.9 L1023.6 200.2 L1024.4 199.1 L1025.2 198.5 L1026.1 198.2 L1026.9 198.1 L1026.9 198.1 L1028.5 217.6 L1029.3 211.7 L1030.1 207.8 L1030.9 205.2 L1031.8 203.5 L1032.6 202.5 L1033.4 201.8 L1034.2 201.5 L1035.0 201.4 L1035.0 201.4 L1036.6 220.8 L1037.5 215.0 L1038.3 211.1 L1039.1 208.5 L1039.9 206.8 L1040.7 205.8 L1041.5 205.2 L1042.3 204.9 L1043.2 204.8 L1043.2 204.8 L1044.8 224.0 L1045.6 218.2 L1046.4 214.4 L1047.2 211.8 L1048.0 210.2 L1048.8 209.1 L1049.7 208.5 L1050.5 208.2 L1051.3 208.1 L1051.3 208.1 L1052.9 227.3 L1053.7 221.5 L1054.5 217.7 L1055.4 215.1 L1056.2 213.5 L1057.0 212.5 L1057.8 211.9 L1058.6 211.6 L1059.4 211.5 L1059.4 211.5 L1061.1 230.5 L1061.9 224.8 L1062.7 221.0 L1063.5 218.4 L1064.3 216.8 L1065.1 215.8 L1065.9 215.2 L1066.8 214.9 L1067.6 214.8 L1067.6 214.8 L1069.2 233.7 L1070.0 228.1 L1070.8 224.3 L1071.6 221.8 L1072.5 220.2 L1073.3 219.2 L1074.1 218.6 L1074.9 218.3 L1075.7 218.2 L1075.7 218.2 L1077.3 237.0 L1078.2 231.3 L1079.0 227.6 L1079.8 225.1 L1080.6 223.5 L1081.4 222.5 L1082.2 221.9 L1083.0 221.6 L1083.9 221.5 L1083.9 221.5 L1085.5 240.2 L1086.3 234.5 L1087.1 230.6 L1087.9 228.0 L1088.7 226.3 L1089.5 225.2 L1090.4 224.5 L1091.2 224.0 L1092.0 223.8 L1092.0 223.8 L1093.6 242.7 L1094.4 236.9 L1095.2 232.9 L1096.1 230.3 L1096.9 228.5 L1097.7 227.3 L1098.5 226.6 L1099.3 226.2 L1100.1 225.9 L1100.1 225.9 L1101.8 245.3 L1102.6 239.3 L1103.4 235.3 L1104.2 232.5 L1105.0 230.7 L1105.8 229.5 L1106.6 228.7 L1107.5 228.3 L1108.3 228.0 L1108.3 228.0 L1109.9 247.9 L1110.7 241.7 L1111.5 237.6 L1112.3 234.8 L1113.2 232.9 L1114.0 231.7 L1114.8 230.9 L1115.6 230.4 L1116.4 230.2 L1116.4 230.2 L1118.0 250.5 L1118.9 244.2 L1119.7 239.9 L1120.5 237.0 L1121.3 235.1 L1122.1 233.8 L1122.9 233.0 L1123.7 232.5 L1124.6 232.3 L1124.6 232.3 L1126.2 253.1 L1127.0 246.6 L1127.8 242.2 L1128.6 239.3 L1129.4 237.3 L1130.2 236.0 L1131.1 235.2 L1131.9 234.7 L1132.7 234.4 L1132.7 234.4 L1134.3 255.6 L1135.1 249.0 L1135.9 244.5 L1136.8 241.5 L1137.6 239.6 L1138.4 238.4 L1139.2 237.6 L1140.0 237.2 L1140.8 237.0 L1140.8 237.0 L1142.5 260.7 L1143.3 253.6 L1144.1 248.8 L1144.9 245.5 L1145.7 243.3 L1146.5 241.9 L1147.3 241.0 L1148.2 240.5 L1149.0 240.2 L1149.0 240.2 L1149.0 240.2 L1150.6 267.0 L1151.4 258.7 L1152.2 253.2 L1153.0 249.4 L1153.9 246.9 L1154.7 245.3 L1155.5 244.3 L1156.3 243.7 L1157.1 243.3 L1157.1 243.3 L1157.2 243.4 L1158.7 273.2 L1159.6 263.6 L1160.4 257.2 L1161.2 253.0 L1162.0 250.2 L1162.8 248.5 L1163.6 247.4 L1164.4 246.8 L1165.3 246.5 L1165.3 246.5 L1165.4 246.6 L1166.9 279.5 L1167.7 268.3 L1168.5 261.1 L1169.3 256.5 L1170.1 253.5 L1170.9 251.7 L1171.8 250.6 L1172.6 250.0 L1173.4 249.7 L1173.4 249.7 L1173.6 249.8 L1175.0 285.8 L1175.8 273.0 L1176.6 264.9 L1177.5 259.9 L1178.3 256.7 L1179.1 254.8 L1179.9 253.7 L1180.7 253.1 L1181.5 252.9 L1181.5 252.9 L1181.8 252.9 L1183.2 292.0 L1184.0 277.6 L1184.8 268.7 L1185.6 263.2 L1186.4 259.9 L1187.2 258.1 L1188.0 257.1 L1188.9 256.4 L1189.7 256.0 L1189.7 256.0 L1190.3 256.3 L1191.3 323.1 L1192.1 292.8 L1192.9 276.5 L1193.7 267.7 L1194.6 263.2 L1195.4 260.9 L1196.2 259.7 L1197.0 259.1 L1197.8 258.8 L1197.8 258.8 L1198.6 258.9 L1199.4 375.6 L1200.3 316.1 L1201.1 286.6 L1201.9 272.4 L1202.7 265.6 L1203.5 262.5 L1204.3 261.0 L1205.1 260.3 L1206.0 260.1 L1206.0 260.1 L1206.8 260.2 L1207.6 403.1 L1208.4 328.9 L1209.2 292.7 L1210.0 275.7 L1210.8 267.7 L1211.6 264.1 L1212.5 262.4 L1213.3 261.7 L1214.1 261.4 L1214.1 261.4 L1214.9 261.5 L1215.7 405.7 L1216.5 329.6 L1217.3 293.7 L1218.2 276.9 L1219.0 269.0 L1219.8 265.3 L1220.6 263.6 L1221.4 262.8 L1222.2 262.5 L1222.2 262.5 L1223.0 262.5 L1223.9 405.7 L1224.7 330.0 L1225.5 294.3 L1226.3 277.4 L1227.1 269.5 L1227.9 265.8 L1228.7 264.1 L1229.6 263.3 L1230.4 262.9 L1230.4 262.9 L1231.2 263.0 L1232.0 405.7 L1232.8 330.3 L1233.6 294.9 L1234.4 278.3 L1235.3 270.5 L1236.1 267.0 L1236.9 265.4 L1237.7 264.8 L1238.5 264.6" fill="none" stroke="#44539d" stroke-width="4.0" stroke-linejoin="round" stroke-linecap="round" />
<path d="M743.0 64.8 L749.4 70.0 L751.0 85.8 L751.8 81.6 L752.6 79.0 L753.4 77.4 L754.2 76.5 L755.0 76.0 L755.8 76.0 L756.6 76.1 L757.4 76.4 L757.4 76.4 L759.0 91.9 L759.8 87.9 L760.6 85.4 L761.4 83.9 L762.2 83.1 L763.0 82.8 L763.8 82.8 L764.6 83.0 L765.4 83.3 L765.4 83.3 L767.0 98.4 L767.8 94.6 L768.6 92.2 L769.4 90.7 L770.2 90.0 L771.0 89.7 L771.8 89.7 L772.6 89.9 L773.4 90.3 L773.4 90.3 L775.0 104.9 L775.8 101.2 L776.6 98.9 L777.4 97.5 L778.2 96.8 L779.0 96.6 L779.8 96.6 L780.6 96.8 L781.4 97.2 L781.4 97.2 L783.0 111.3 L783.8 107.8 L784.6 105.6 L785.4 104.3 L786.2 103.6 L787.0 103.4 L787.8 103.5 L788.6 103.7 L789.4 104.1 L789.4 104.1 L791.0 117.4 L791.8 114.2 L792.6 112.1 L793.4 111.0 L794.2 110.4 L795.0 110.3 L795.8 110.4 L796.6 110.7 L797.4 111.1 L797.4 111.1 L799.0 123.6 L799.8 120.6 L800.6 118.7 L801.4 117.7 L802.2 117.2 L803.0 117.1 L803.8 117.2 L804.6 117.6 L805.4 118.0 L805.4 118.0 L807.0 129.7 L807.8 126.9 L808.6 125.3 L809.4 124.4 L810.2 123.9 L811.0 123.6 L811.8 123.6 L812.6 123.7 L813.4 123.9 L813.4 123.9 L815.0 134.6 L815.8 131.8 L816.6 130.0 L817.4 128.9 L818.2 128.3 L819.0 128.0 L819.8 128.0 L820.6 128.1 L821.4 128.3 L821.4 128.3 L823.0 138.8 L823.8 136.1 L824.6 134.3 L825.4 133.3 L826.2 132.7 L827.0 132.4 L827.8 132.3 L828.6 132.5 L829.4 132.7 L829.4 132.7 L831.0 143.0 L831.8 140.3 L832.6 138.6 L833.4 137.6 L834.2 137.0 L835.0 136.8 L835.8 136.7 L836.6 136.9 L837.4 137.1 L837.4 137.1 L839.0 147.2 L839.8 144.6 L840.6 142.9 L841.4 141.9 L842.2 141.4 L843.0 141.2 L843.8 141.1 L844.6 141.2 L845.4 141.5 L845.4 141.5 L847.0 151.4 L847.8 148.9 L848.6 147.2 L849.4 146.3 L850.2 145.8 L851.0 145.5 L851.8 145.5 L852.6 145.6 L853.4 145.9 L853.4 145.9 L855.0 156.1 L855.8 153.5 L856.6 151.8 L857.4 150.8 L858.2 150.3 L859.0 150.0 L859.8 150.0 L860.6 150.1 L861.4 150.3 L861.4 150.3 L863.0 161.0 L863.8 158.2 L864.6 156.5 L865.4 155.4 L866.2 154.7 L867.0 154.5 L867.8 154.4 L868.6 154.5 L869.4 154.7 L869.4 154.7 L871.0 166.0 L871.8 163.0 L872.6 161.1 L873.4 159.9 L874.2 159.2 L875.0 158.9 L875.8 158.8 L876.6 158.9 L877.4 159.1 L877.4 159.1 L879.0 170.9 L879.8 167.8 L880.6 165.6 L881.4 164.2 L882.2 163.4 L883.0 162.9 L883.8 162.7 L884.6 162.6 L885.4 162.7 L885.4 162.7 L887.0 174.0 L887.8 170.8 L888.6 168.7 L889.4 167.3 L890.2 166.5 L891.0 166.1 L891.8 165.8 L892.6 165.8 L893.4 165.9 L893.4 165.9 L895.0 176.9 L895.8 173.8 L896.6 171.8 L897.4 170.5 L898.2 169.7 L899.0 169.2 L899.8 169.0 L900.6 169.0 L901.4 169.1 L901.4 169.1 L903.0 179.8 L903.8 176.8 L904.6 174.8 L905.4 173.6 L906.2 172.8 L907.0 172.4 L907.8 172.2 L908.6 172.2 L909.4 172.3 L909.4 172.3 L911.0 182.7 L911.8 179.8 L912.6 177.9 L913.4 176.7 L914.2 176.0 L915.0 175.6 L915.8 175.4 L916.6 175.4 L917.4 175.5 L917.4 175.5 L919.0 185.6 L919.8 182.8 L920.6 181.0 L921.4 179.9 L922.2 179.2 L923.0 178.8 L923.8 178.7 L924.6 178.7 L925.4 178.8 L925.4 178.8 L927.0 189.8 L927.8 186.8 L928.6 184.8 L929.4 183.5 L930.2 182.7 L931.0 182.3 L931.8 182.1 L932.6 182.0 L933.4 182.1 L933.4 182.1 L935.0 194.2 L935.8 190.8 L936.6 188.6 L937.4 187.2 L938.2 186.3 L939.0 185.7 L939.8 185.5 L940.6 185.4 L941.4 185.4 L941.4 185.4 L943.0 198.6 L943.8 194.9 L944.6 192.4 L945.4 190.8 L946.2 189.8 L947.0 189.2 L947.8 188.9 L948.6 188.8 L949.4 188.8 L949.4 188.8 L951.0 202.9 L951.8 198.9 L952.6 196.2 L953.4 194.4 L954.2 193.3 L955.0 192.7 L955.8 192.3 L956.6 192.1 L957.4 192.1 L957.4 192.1 L959.0 207.3 L959.8 203.0 L960.6 200.1 L961.4 198.3 L962.2 197.2 L963.0 196.6 L963.8 196.3 L964.6 196.2 L965.4 196.3 L965.4 196.3 L967.0 211.7 L967.8 207.3 L968.6 204.5 L969.4 202.7 L970.2 201.6 L971.0 200.9 L971.8 200.6 L972.6 200.6 L973.4 200.7 L973.4 200.7 L975.0 216.0 L975.8 211.7 L976.6 208.9 L977.4 207.0 L978.2 205.9 L979.0 205.3 L979.8 205.0 L980.6 204.9 L981.4 205.0 L981.4 205.0 L983.0 220.4 L983.8 216.1 L984.6 213.2 L985.4 211.4 L986.2 210.3 L987.0 209.7 L987.8 209.4 L988.6 209.3 L989.4 209.4 L989.4 209.4 L991.0 224.8 L991.8 220.4 L992.6 217.6 L993.4 215.8 L994.2 214.7 L995.0 214.0 L995.8 213.7 L996.6 213.6 L997.4 213.5 L997.4 213.5 L999.0 229.1 L999.8 224.5 L1000.6 221.5 L1001.4 219.5 L1002.2 218.2 L1003.0 217.4 L1003.8 216.9 L1004.6 216.7 L1005.4 216.6 L1005.4 216.6 L1007.0 233.3 L1007.8 228.4 L1008.6 225.0 L1009.4 222.9 L1010.2 221.4 L1011.0 220.5 L1011.8 220.0 L1012.6 219.7 L1013.4 219.6 L1013.4 219.6 L1015.0 237.5 L1015.8 232.2 L1016.6 228.6 L1017.4 226.2 L1018.2 224.6 L1019.0 223.5 L1019.8 222.9 L1020.6 222.5 L1021.4 222.4 L1021.4 222.4 L1023.0 240.6 L1023.8 235.0 L1024.6 231.3 L1025.4 228.7 L1026.2 227.1 L1027.0 226.0 L1027.8 225.4 L1028.6 225.0 L1029.4 224.8 L1029.4 224.8 L1031.0 243.3 L1031.8 237.7 L1032.6 233.9 L1033.4 231.3 L1034.2 229.6 L1035.0 228.5 L1035.8 227.9 L1036.6 227.5 L1037.4 227.3 L1037.4 227.3 L1039.0 246.1 L1039.8 240.3 L1040.6 236.5 L1041.4 233.9 L1042.2 232.1 L1043.0 231.0 L1043.8 230.4 L1044.6 230.0 L1045.4 229.8 L1045.4 229.8 L1047.0 248.9 L1047.8 243.0 L1048.6 239.1 L1049.4 236.4 L1050.2 234.7 L1051.0 233.5 L1051.8 232.8 L1052.6 232.4 L1053.4 232.2 L1053.4 232.2 L1055.0 251.6 L1055.8 245.7 L1056.6 241.7 L1057.4 239.0 L1058.2 237.2 L1059.0 236.0 L1059.8 235.3 L1060.6 234.9 L1061.4 234.7 L1061.4 234.7 L1063.0 254.4 L1063.8 248.3 L1064.6 244.3 L1065.4 241.5 L1066.2 239.7 L1067.0 238.5 L1067.8 237.8 L1068.6 237.4 L1069.4 237.2 L1069.4 237.2 L1071.0 257.2 L1071.8 251.0 L1072.6 246.9 L1073.4 244.1 L1074.2 242.2 L1075.0 241.1 L1075.8 240.3 L1076.6 239.9 L1077.4 239.7 L1077.4 239.7 L1079.0 259.9 L1079.8 253.7 L1080.6 249.5 L1081.4 246.6 L1082.2 244.8 L1083.0 243.6 L1083.8 242.8 L1084.6 242.4 L1085.4 242.1 L1085.4 242.1 L1087.0 262.9 L1087.8 256.5 L1088.6 252.1 L1089.4 249.1 L1090.2 247.1 L1091.0 245.7 L1091.8 244.9 L1092.6 244.3 L1093.4 244.0 L1093.4 244.0 L1095.0 266.4 L1095.8 259.4 L1096.6 254.7 L1097.4 251.4 L1098.2 249.3 L1099.0 247.8 L1099.8 246.8 L1100.6 246.2 L1101.4 245.9 L1101.4 245.9 L1103.0 269.9 L1103.8 262.4 L1104.6 257.3 L1105.4 253.8 L1106.2 251.4 L1107.0 249.9 L1107.8 248.8 L1108.6 248.2 L1109.4 247.8 L1109.4 247.8 L1109.4 247.8 L1111.0 273.5 L1111.8 265.5 L1112.6 260.0 L1113.4 256.2 L1114.2 253.7 L1115.0 252.0 L1115.8 250.8 L1116.6 250.1 L1117.4 249.7 L1117.4 249.7 L1117.4 249.7 L1119.0 278.0 L1119.8 268.8 L1120.6 262.6 L1121.4 258.5 L1122.2 255.7 L1123.0 253.9 L1123.8 252.7 L1124.6 252.0 L1125.4 251.6 L1125.4 251.6 L1125.5 251.6 L1127.0 282.6 L1127.8 272.1 L1128.6 265.2 L1129.4 260.7 L1130.2 257.7 L1131.0 255.8 L1131.8 254.6 L1132.6 253.9 L1133.4 253.4 L1133.4 253.4 L1133.5 253.5 L1135.0 287.2 L1135.8 275.3 L1136.6 267.7 L1137.4 262.9 L1138.2 259.8 L1139.0 257.9 L1139.8 256.6 L1140.6 255.9 L1141.4 255.5 L1141.4 255.5 L1141.6 255.5 L1143.0 295.9 L1143.8 280.8 L1144.6 271.5 L1145.4 265.7 L1146.2 262.1 L1147.0 259.9 L1147.8 258.7 L1148.6 257.9 L1149.4 257.6 L1149.4 257.6 L1149.8 257.7 L1151.0 306.0 L1151.8 286.5 L1152.6 274.9 L1153.4 268.1 L1154.2 264.2 L1155.0 261.9 L1155.8 260.7 L1156.6 260.0 L1157.4 259.7 L1157.4 259.7 L1158.0 259.8 L1159.0 321.1 L1159.8 293.3 L1160.6 278.2 L1161.4 270.1 L1162.2 265.8 L1163.0 263.6 L1163.8 262.5 L1164.6 262.0 L1165.4 261.8 L1165.4 261.8 L1166.2 262.0 L1167.0 344.8 L1167.8 302.3 L1168.6 281.8 L1169.4 272.0 L1170.2 267.4 L1171.0 265.2 L1171.8 264.3 L1172.6 263.9 L1173.4 263.9 L1173.4 263.9 L1174.2 264.1 L1175.0 367.3 L1175.8 314.8 L1176.6 289.2 L1177.4 276.7 L1178.2 270.7 L1179.0 267.9 L1179.8 266.7 L1180.6 266.1 L1181.4 266.0 L1181.4 266.0 L1182.2 266.2 L1183.0 405.7 L1183.8 332.1 L1184.6 297.6 L1185.4 281.4 L1186.2 273.8 L1187.0 270.4 L1187.8 268.9 L1188.6 268.3 L1189.4 268.1 L1189.4 268.1 L1190.2 268.2 L1191.0 405.7 L1191.8 333.1 L1192.6 299.0 L1193.4 282.9 L1194.2 275.4 L1195.0 272.0 L1195.8 270.4 L1196.6 269.8 L1197.4 269.5" fill="none" stroke="#25863f" stroke-width="4.0" stroke-linejoin="round" stroke-linecap="round" />
</g>
<rect x="742" y="10" width="533.5" height="422" fill="none" stroke="#222" stroke-width="4.3"/>
<line x1="746.3" y1="430" x2="746.3" y2="422.5" stroke="#222" stroke-width="3.4"/>
<line x1="880.1" y1="430" x2="880.1" y2="422.5" stroke="#222" stroke-width="3.4"/>
<line x1="1013.9" y1="430" x2="1013.9" y2="422.5" stroke="#222" stroke-width="3.4"/>
<line x1="1147.7" y1="430" x2="1147.7" y2="422.5" stroke="#222" stroke-width="3.4"/>
<line x1="813.2" y1="430" x2="813.2" y2="425.5" stroke="#222" stroke-width="3.4"/>
<line x1="947.0" y1="430" x2="947.0" y2="425.5" stroke="#222" stroke-width="3.4"/>
<line x1="1080.8" y1="430" x2="1080.8" y2="425.5" stroke="#222" stroke-width="3.4"/>
<line x1="1214.6" y1="430" x2="1214.6" y2="425.5" stroke="#222" stroke-width="3.4"/>
<text x="746.3" y="462.5" font-size="28" text-anchor="middle" font-weight="bold" >0.0</text>
<text x="880.1" y="462.5" font-size="28" text-anchor="middle" font-weight="bold" >40.0k</text>
<text x="1013.9" y="462.5" font-size="28" text-anchor="middle" font-weight="bold" >80.0k</text>
<text x="1147.7" y="462.5" font-size="28" text-anchor="middle" font-weight="bold" >120.0k</text>
<line x1="744" y1="403.9" x2="751.5" y2="403.9" stroke="#222" stroke-width="3.4"/>
<line x1="744" y1="335.9" x2="751.5" y2="335.9" stroke="#222" stroke-width="3.4"/>
<line x1="744" y1="268.0" x2="751.5" y2="268.0" stroke="#222" stroke-width="3.4"/>
<line x1="744" y1="200.0" x2="751.5" y2="200.0" stroke="#222" stroke-width="3.4"/>
<line x1="744" y1="132.1" x2="751.5" y2="132.1" stroke="#222" stroke-width="3.4"/>
<line x1="744" y1="64.1" x2="751.5" y2="64.1" stroke="#222" stroke-width="3.4"/>
<line x1="744" y1="369.9" x2="748.5" y2="369.9" stroke="#222" stroke-width="3.4"/>
<line x1="744" y1="302.0" x2="748.5" y2="302.0" stroke="#222" stroke-width="3.4"/>
<line x1="744" y1="234.0" x2="748.5" y2="234.0" stroke="#222" stroke-width="3.4"/>
<line x1="744" y1="166.1" x2="748.5" y2="166.1" stroke="#222" stroke-width="3.4"/>
<line x1="744" y1="98.1" x2="748.5" y2="98.1" stroke="#222" stroke-width="3.4"/>
<line x1="744" y1="30.2" x2="748.5" y2="30.2" stroke="#222" stroke-width="3.4"/>
<text x="735.0" y="412.2" font-size="28" text-anchor="end" font-weight="bold" >2.0</text>
<text x="735.0" y="344.2" font-size="28" text-anchor="end" font-weight="bold" >2.5</text>
<text x="735.0" y="276.3" font-size="28" text-anchor="end" font-weight="bold" >3.0</text>
<text x="735.0" y="208.3" font-size="28" text-anchor="end" font-weight="bold" >3.5</text>
<text x="735.0" y="140.4" font-size="28" text-anchor="end" font-weight="bold" >4.0</text>
<text x="735.0" y="72.4" font-size="28" text-anchor="end" font-weight="bold" >4.5</text>
<line x1="751.5" y1="283.4" x2="816" y2="283.4" stroke="#222" stroke-width="3.2"/>
<text x="822.5" y="292.9" font-size="28" font-weight="bold">1<tspan font-size="16" dy="-12">st</tspan><tspan dy="12" dx="3"> discharge</tspan></text>
<line x1="751.5" y1="322.7" x2="816" y2="322.7" stroke="#e62c32" stroke-width="3.2"/>
<text x="822.5" y="332.2" font-size="28" font-weight="bold">2<tspan font-size="16" dy="-12">nd</tspan><tspan dy="12" dx="3"> discharge</tspan></text>
<line x1="751.5" y1="362.0" x2="816" y2="362.0" stroke="#44539d" stroke-width="3.2"/>
<text x="822.5" y="371.5" font-size="28" font-weight="bold">3<tspan font-size="16" dy="-12">rd</tspan><tspan dy="12" dx="3"> discharge</tspan></text>
<line x1="751.5" y1="401.3" x2="816" y2="401.3" stroke="#25863f" stroke-width="3.2"/>
<text x="822.5" y="410.8" font-size="28" font-weight="bold">50<tspan font-size="16" dy="-12">th</tspan><tspan dy="12" dx="3"> discharge</tspan></text>
<text x="1014.0" y="504.5" font-size="31.8" text-anchor="middle" font-weight="bold" >Time / s</text>
<text transform="translate(673,213.1) rotate(-90)" font-size="32.3" font-weight="bold" text-anchor="middle">Voltage / V vs. Li/Li<tspan font-size="18" dy="-14">+</tspan></text>
<text x="644.0" y="27.5" font-size="40" text-anchor="start" font-weight="bold" >(b)</text>
<rect x="98.75" y="525.8" width="533.75" height="422.0" fill="none" stroke="#222" stroke-width="4.3"/>
<line x1="131.0" y1="945.8" x2="131.0" y2="938.3" stroke="#222" stroke-width="3.4"/>
<line x1="197.9" y1="945.8" x2="197.9" y2="938.3" stroke="#222" stroke-width="3.4"/>
<line x1="264.8" y1="945.8" x2="264.8" y2="938.3" stroke="#222" stroke-width="3.4"/>
<line x1="331.7" y1="945.8" x2="331.7" y2="938.3" stroke="#222" stroke-width="3.4"/>
<line x1="398.6" y1="945.8" x2="398.6" y2="938.3" stroke="#222" stroke-width="3.4"/>
<line x1="465.5" y1="945.8" x2="465.5" y2="938.3" stroke="#222" stroke-width="3.4"/>
<line x1="532.4" y1="945.8" x2="532.4" y2="938.3" stroke="#222" stroke-width="3.4"/>
<line x1="599.3" y1="945.8" x2="599.3" y2="938.3" stroke="#222" stroke-width="3.4"/>
<line x1="164.4" y1="945.8" x2="164.4" y2="941.3" stroke="#222" stroke-width="3.4"/>
<line x1="231.4" y1="945.8" x2="231.4" y2="941.3" stroke="#222" stroke-width="3.4"/>
<line x1="298.2" y1="945.8" x2="298.2" y2="941.3" stroke="#222" stroke-width="3.4"/>
<line x1="365.1" y1="945.8" x2="365.1" y2="941.3" stroke="#222" stroke-width="3.4"/>
<line x1="432.1" y1="945.8" x2="432.1" y2="941.3" stroke="#222" stroke-width="3.4"/>
<line x1="499.0" y1="945.8" x2="499.0" y2="941.3" stroke="#222" stroke-width="3.4"/>
<line x1="565.9" y1="945.8" x2="565.9" y2="941.3" stroke="#222" stroke-width="3.4"/>
<text x="131.0" y="978.0" font-size="28" text-anchor="middle" font-weight="bold" >0</text>
<text x="197.9" y="978.0" font-size="28" text-anchor="middle" font-weight="bold" >10</text>
<text x="264.8" y="978.0" font-size="28" text-anchor="middle" font-weight="bold" >20</text>
<text x="331.7" y="978.0" font-size="28" text-anchor="middle" font-weight="bold" >30</text>
<text x="398.6" y="978.0" font-size="28" text-anchor="middle" font-weight="bold" >40</text>
<text x="465.5" y="978.0" font-size="28" text-anchor="middle" font-weight="bold" >50</text>
<text x="532.4" y="978.0" font-size="28" text-anchor="middle" font-weight="bold" >60</text>
<text x="599.3" y="978.0" font-size="28" text-anchor="middle" font-weight="bold" >70</text>
<line x1="100.75" y1="946.7" x2="108.25" y2="946.7" stroke="#222" stroke-width="3.4"/>
<line x1="100.75" y1="894.1" x2="108.25" y2="894.1" stroke="#222" stroke-width="3.4"/>
<line x1="100.75" y1="841.5" x2="108.25" y2="841.5" stroke="#222" stroke-width="3.4"/>
<line x1="100.75" y1="788.9" x2="108.25" y2="788.9" stroke="#222" stroke-width="3.4"/>
<line x1="100.75" y1="736.3" x2="108.25" y2="736.3" stroke="#222" stroke-width="3.4"/>
<line x1="100.75" y1="683.7" x2="108.25" y2="683.7" stroke="#222" stroke-width="3.4"/>
<line x1="100.75" y1="631.1" x2="108.25" y2="631.1" stroke="#222" stroke-width="3.4"/>
<line x1="100.75" y1="578.5" x2="108.25" y2="578.5" stroke="#222" stroke-width="3.4"/>
<line x1="100.75" y1="920.4" x2="105.25" y2="920.4" stroke="#222" stroke-width="3.4"/>
<line x1="100.75" y1="867.8" x2="105.25" y2="867.8" stroke="#222" stroke-width="3.4"/>
<line x1="100.75" y1="815.2" x2="105.25" y2="815.2" stroke="#222" stroke-width="3.4"/>
<line x1="100.75" y1="762.6" x2="105.25" y2="762.6" stroke="#222" stroke-width="3.4"/>
<line x1="100.75" y1="710.0" x2="105.25" y2="710.0" stroke="#222" stroke-width="3.4"/>
<line x1="100.75" y1="657.4" x2="105.25" y2="657.4" stroke="#222" stroke-width="3.4"/>
<line x1="100.75" y1="604.8" x2="105.25" y2="604.8" stroke="#222" stroke-width="3.4"/>
<line x1="100.75" y1="552.2" x2="105.25" y2="552.2" stroke="#222" stroke-width="3.4"/>
<text x="95.0" y="955.0" font-size="28" text-anchor="end" font-weight="bold" >3.88</text>
<text x="95.0" y="902.4" font-size="28" text-anchor="end" font-weight="bold" >3.89</text>
<text x="95.0" y="849.8" font-size="28" text-anchor="end" font-weight="bold" >3.90</text>
<text x="95.0" y="797.2" font-size="28" text-anchor="end" font-weight="bold" >3.91</text>
<text x="95.0" y="744.6" font-size="28" text-anchor="end" font-weight="bold" >3.92</text>
<text x="95.0" y="692.0" font-size="28" text-anchor="end" font-weight="bold" >3.93</text>
<text x="95.0" y="639.4" font-size="28" text-anchor="end" font-weight="bold" >3.94</text>
<text x="95.0" y="586.8" font-size="28" text-anchor="end" font-weight="bold" >3.95</text>
<path d="M130.2 815.0 L130.8 819.0 L131.4 820.5 L132.0 824.5 L133.0 826.8 L134.0 829.4 L135.0 832.2 L136.4 834.8 L137.9 837.0 L139.3 839.5 L141.5 841.4 L143.7 844.1 L145.8 845.1 L148.0 848.9 L150.1 848.4 L152.1 851.6 L154.2 852.6 L156.3 854.5 L158.3 855.1 L160.4 856.8 L162.8 859.6 L165.3 861.5 L167.7 861.3 L170.1 863.6 L172.6 865.5 L175.0 866.9 L177.2 866.2 L179.5 867.2 L181.7 868.7 L183.9 871.5 L186.1 870.8 L188.4 872.8 L190.6 875.2 L193.0 875.1 L195.4 876.4 L197.8 876.4 L200.2 878.1 L202.6 879.4 L205.0 878.3 L207.6 881.0 L210.3 882.4 L212.9 882.7 L215.5 882.4 L218.2 884.5 L220.8 883.7 L223.3 885.2 L225.9 886.9 L228.4 886.1 L230.9 886.7 L233.5 887.0 L236.0 887.3 L238.5 889.6 L241.0 889.1 L243.5 889.8 L246.0 891.0 L248.5 890.6 L251.0 892.5 L253.5 892.1 L256.0 893.7 L258.5 894.6 L261.0 893.8 L263.5 895.2 L266.0 896.5 L268.6 896.4 L271.1 896.2 L273.6 898.0 L276.2 898.9 L278.8 899.2 L281.3 900.9 L284.2 900.4 L287.2 901.6 L290.1 900.2 L293.1 900.7 L296.0 902.7 L298.6 902.2 L301.2 902.0 L303.8 904.2 L306.3 903.2 L308.9 904.6 L311.5 904.9 L314.3 905.7 L317.1 905.6 L319.9 906.3 L322.7 905.8 L325.5 906.0 L328.3 907.9 L331.1 907.4" fill="none" stroke="#e62c32" stroke-width="9" stroke-linejoin="round" stroke-linecap="round" />
<path d="M331.5 862.0 C331.9 857.5 333.0 842.8 333.9 835.0 C334.8 827.2 335.6 822.6 337.0 815.4 C338.4 808.2 340.2 799.3 342.0 792.0 C343.8 784.7 345.8 778.0 347.5 771.6 C349.2 765.2 350.5 759.4 352.0 753.5 C353.5 747.6 354.9 741.9 356.3 736.5 C357.7 731.1 359.0 726.0 360.5 721.0 C362.0 716.0 363.6 711.3 365.1 706.7 C366.6 702.1 368.0 697.9 369.5 693.5 C371.0 689.1 372.4 684.8 373.9 680.4 C375.3 676.0 376.8 671.4 378.2 667.0 C379.6 662.6 381.3 658.2 382.6 654.0 C383.9 649.8 384.9 645.8 386.1 641.8 C387.3 637.8 388.5 634.6 390.0 630.0 C391.5 625.4 393.4 619.0 395.0 614.0 C396.6 609.0 398.7 602.3 399.4 600.0" fill="none" stroke="#e62c32" stroke-width="7" stroke-linejoin="round" stroke-linecap="round"/>
<path d="M398.2 654.8 L398.5 656.4 L398.9 660.1 L399.2 662.3 L399.5 664.8 L400.1 667.7 L400.8 670.5 L401.4 674.6 L403.5 676.0 L405.7 678.1 L407.9 681.1 L410.0 683.1 L412.1 683.5 L414.3 685.8 L416.4 686.4 L418.6 689.3 L420.8 690.8 L422.9 691.4 L425.4 693.9 L427.9 693.7 L430.5 696.4 L433.0 697.0 L435.3 699.1 L437.5 699.6 L439.8 700.9 L442.0 703.3 L444.3 703.6 L447.0 704.5 L449.6 706.0 L452.3 707.5 L455.0 708.9 L457.7 709.3 L460.4 711.3 L463.0 711.9 L465.7 712.9 L468.3 713.3 L470.9 714.9 L473.4 715.0 L476.0 714.7 L478.8 716.7 L481.6 718.0 L484.4 717.5 L487.2 719.1 L489.9 718.6 L492.6 720.0 L495.3 720.5 L498.0 721.3 L500.6 723.0 L503.3 723.2 L506.0 725.0 L508.6 724.8 L511.2 724.3 L513.8 725.5 L516.4 727.3 L519.0 726.8 L521.8 726.4 L524.5 727.4 L527.2 727.5 L530.0 730.2 L532.5 730.9 L535.0 731.2 L537.5 731.5 L540.0 732.6 L542.9 732.1 L545.8 733.2 L548.6 734.6 L551.5 735.1 L554.1 734.6 L556.8 737.1 L559.4 736.1 L562.0 736.5 L564.8 736.3 L567.5 736.4 L570.2 737.0 L573.0 738.3 L576.0 738.6 L579.0 738.2 L582.0 737.8 L585.0 740.2 L587.8 739.4 L590.6 740.7 L593.4 739.9 L596.2 741.9 L599.0 742.0" fill="none" stroke="#e62c32" stroke-width="9" stroke-linejoin="round" stroke-linecap="round" />
<line x1="264.2" y1="909.8" x2="617.0" y2="909.8" stroke="#222" stroke-width="4.2" stroke-dasharray="0 8.25" stroke-linecap="round"/>
<line x1="331.2" y1="559.8" x2="331.2" y2="945.0" stroke="#222" stroke-width="4.2" stroke-dasharray="0 8.25" stroke-linecap="round"/>
<line x1="400.3" y1="555.2" x2="400.3" y2="945.0" stroke="#222" stroke-width="4.2" stroke-dasharray="0 8.25" stroke-linecap="round"/>
<line x1="253.3" y1="600.9" x2="400.0" y2="600.9" stroke="#222" stroke-width="4.2" stroke-dasharray="0 8.25" stroke-linecap="round"/>
<line x1="265.8" y1="862.2" x2="331.0" y2="862.2" stroke="#222" stroke-width="4.2" stroke-dasharray="0 8.25" stroke-linecap="round"/>
<line x1="510.8" y1="744.0" x2="607.2" y2="744.0" stroke="#222" stroke-width="4.2" stroke-dasharray="0 8.25" stroke-linecap="round"/>
<line x1="290.5" y1="620" x2="290.5" y2="842" stroke="#222" stroke-width="3"/>
<path d="M290.5 605.2 L297.0 626.2 L290.5 623.7 L284.0 626.2 Z" fill="#222"/>
<path d="M290.5 856.0 L284.0 835.0 L290.5 837.5 L297.0 835.0 Z" fill="#222"/>
<line x1="553.5" y1="758" x2="553.5" y2="894" stroke="#222" stroke-width="3"/>
<path d="M553.5 742.0 L560.0 763.0 L553.5 760.5 L547.0 763.0 Z" fill="#222"/>
<path d="M553.5 908.5 L547.0 887.5 L553.5 890.0 L560.0 887.5 Z" fill="#222"/>
<line x1="348" y1="566.1" x2="384" y2="566.1" stroke="#222" stroke-width="3"/>
<path d="M334.2 566.1 L356.2 559.9 L353.6 566.1 L356.2 572.4 Z" fill="#222"/>
<path d="M397.5 566.1 L375.5 572.4 L378.1 566.1 L375.5 559.9 Z" fill="#222"/>
<text x="369.3" y="548.5" font-size="24" text-anchor="middle" font-weight="bold" ><tspan font-weight="normal">τ</tspan> = 10 min</text>
<text x="225.0" y="918.0" font-size="22.5" text-anchor="start" font-weight="bold" >E</text>
<circle cx="247" cy="910" r="5" fill="none" stroke="#222" stroke-width="3"/>
<line x1="251.5" y1="909.8" x2="256.5" y2="909.8" stroke="#222" stroke-width="3"/>
<text x="309.0" y="932.0" font-size="23.5" text-anchor="start" font-weight="normal" >t<tspan font-size="21" dy="6">0</tspan></text>
<text x="404.5" y="932.0" font-size="23.5" text-anchor="start" font-weight="normal" >t<tspan font-size="21" dy="6">0</tspan><tspan dy="-6" dx="1.5">+</tspan><tspan dx="1">τ</tspan></text>
<text x="230.0" y="711.0" font-size="22" text-anchor="start" font-weight="bold" >ΔEτ</text>
<text x="598.6" y="735.4" font-size="22" text-anchor="start" font-weight="bold" >Es</text>
<text x="574.0" y="832.0" font-size="22" text-anchor="start" font-weight="bold" >ΔEs</text>
<text x="357.3" y="1016.4" font-size="31.5" text-anchor="middle" font-weight="bold" >Time / min</text>
<text transform="translate(28.2,733.2) rotate(-90)" font-size="32.6" font-weight="bold" text-anchor="middle">Voltage / V vs. Li/Li<tspan font-size="18" dy="-14">+</tspan></text>
<text x="-1.0" y="542.5" font-size="40" text-anchor="start" font-weight="bold" >(c)</text>
<rect x="742.2" y="526" width="531.8" height="421.79999999999995" fill="none" stroke="#222" stroke-width="4.3"/>
<line x1="762.5" y1="945.8" x2="762.5" y2="938.3" stroke="#222" stroke-width="3.4"/>
<line x1="865.5" y1="945.8" x2="865.5" y2="938.3" stroke="#222" stroke-width="3.4"/>
<line x1="968.5" y1="945.8" x2="968.5" y2="938.3" stroke="#222" stroke-width="3.4"/>
<line x1="1071.5" y1="945.8" x2="1071.5" y2="938.3" stroke="#222" stroke-width="3.4"/>
<line x1="1174.5" y1="945.8" x2="1174.5" y2="938.3" stroke="#222" stroke-width="3.4"/>
<line x1="814.0" y1="945.8" x2="814.0" y2="941.3" stroke="#222" stroke-width="3.4"/>
<line x1="917.0" y1="945.8" x2="917.0" y2="941.3" stroke="#222" stroke-width="3.4"/>
<line x1="1020.0" y1="945.8" x2="1020.0" y2="941.3" stroke="#222" stroke-width="3.4"/>
<line x1="1123.0" y1="945.8" x2="1123.0" y2="941.3" stroke="#222" stroke-width="3.4"/>
<line x1="1226.0" y1="945.8" x2="1226.0" y2="941.3" stroke="#222" stroke-width="3.4"/>
<text x="762.5" y="977.5" font-size="28" text-anchor="middle" font-weight="bold" >0</text>
<text x="865.5" y="977.5" font-size="28" text-anchor="middle" font-weight="bold" >5</text>
<text x="968.5" y="977.5" font-size="28" text-anchor="middle" font-weight="bold" >10</text>
<text x="1071.5" y="977.5" font-size="28" text-anchor="middle" font-weight="bold" >15</text>
<text x="1174.5" y="977.5" font-size="28" text-anchor="middle" font-weight="bold" >20</text>
<line x1="744.2" y1="908.0" x2="751.7" y2="908.0" stroke="#222" stroke-width="3.4"/>
<line x1="744.2" y1="826.6" x2="751.7" y2="826.6" stroke="#222" stroke-width="3.4"/>
<line x1="744.2" y1="745.2" x2="751.7" y2="745.2" stroke="#222" stroke-width="3.4"/>
<line x1="744.2" y1="663.8" x2="751.7" y2="663.8" stroke="#222" stroke-width="3.4"/>
<line x1="744.2" y1="582.4" x2="751.7" y2="582.4" stroke="#222" stroke-width="3.4"/>
<line x1="744.2" y1="867.3" x2="748.7" y2="867.3" stroke="#222" stroke-width="3.4"/>
<line x1="744.2" y1="785.9" x2="748.7" y2="785.9" stroke="#222" stroke-width="3.4"/>
<line x1="744.2" y1="704.5" x2="748.7" y2="704.5" stroke="#222" stroke-width="3.4"/>
<line x1="744.2" y1="623.1" x2="748.7" y2="623.1" stroke="#222" stroke-width="3.4"/>
<line x1="744.2" y1="541.7" x2="748.7" y2="541.7" stroke="#222" stroke-width="3.4"/>
<text x="736.0" y="916.3" font-size="28" text-anchor="end" font-weight="bold" >3.90</text>
<text x="736.0" y="834.9" font-size="28" text-anchor="end" font-weight="bold" >3.91</text>
<text x="736.0" y="753.5" font-size="28" text-anchor="end" font-weight="bold" >3.92</text>
<text x="736.0" y="672.1" font-size="28" text-anchor="end" font-weight="bold" >3.93</text>
<text x="736.0" y="590.7" font-size="28" text-anchor="end" font-weight="bold" >3.94</text>
<path d="M782.8 927.0 L785.0 926.0 L787.1 923.2 L789.3 922.5 L791.5 922.3 L793.7 920.9 L795.8 916.9 L798.0 915.8 L800.0 915.5 L802.1 917.0 L804.1 916.0 L806.2 917.6 L808.2 918.5 L810.7 912.2 L813.2 908.4 L815.7 908.9 L818.3 907.9 L820.8 910.5 L823.0 909.0 L825.1 908.9 L827.3 908.0 L829.5 908.7 L831.7 907.4 L833.8 905.9 L836.0 906.6 L838.0 906.4 L840.1 903.9 L842.1 902.6 L844.2 902.1 L846.2 902.9 L848.7 899.6 L851.3 895.3 L853.8 892.6 L856.3 890.7 L858.9 887.6 L861.4 885.0 L863.4 886.0 L865.4 885.0 L867.5 883.6 L869.5 882.4 L871.5 882.2 L873.5 881.1 L875.5 879.2 L877.6 878.0 L879.6 877.2 L881.6 877.3 L883.6 875.1 L885.7 872.9 L887.7 871.6 L889.8 870.9 L891.8 868.9 L893.9 867.8 L896.0 867.7 L898.1 865.3 L900.2 865.5 L902.3 864.1 L904.4 864.2 L907.0 867.4 L909.5 870.4 L911.6 868.9 L913.7 866.5 L915.9 865.9 L918.0 863.4 L920.1 862.7 L922.2 860.4 L924.3 858.3 L926.4 854.5 L928.5 852.5 L930.7 852.3 L932.8 847.4 L934.9 846.3 L937.4 843.6 L940.0 841.3 L942.5 838.0 L944.5 838.7 L946.5 837.2 L948.6 837.5 L950.6 838.2 L952.6 838.3 L954.7 836.9 L956.8 835.7 L959.0 835.8 L961.1 833.3 L963.2 834.5 L965.3 832.4 L967.3 829.1 L969.3 826.9 L971.4 822.6 L973.4 822.0 L975.4 818.9 L977.9 816.9 L980.5 814.4 L983.0 813.9 L985.5 814.8 L988.1 815.8 L990.6 817.9 L992.7 815.5 L994.8 813.2 L997.0 812.3 L999.1 809.7 L1001.2 808.2 L1003.3 808.4 L1005.5 805.7 L1007.6 803.4 L1009.8 800.1 L1012.0 796.2 L1014.2 791.9 L1016.3 790.3 L1018.5 788.8 L1020.5 787.1 L1022.6 784.8 L1024.6 783.5 L1026.6 781.5 L1028.7 780.1 L1030.7 778.5 L1032.7 779.8 L1034.7 777.8 L1036.8 774.9 L1038.8 774.5 L1040.9 771.3 L1043.0 769.8 L1045.2 769.4 L1047.3 767.1 L1049.4 764.6 L1051.5 762.1 L1053.6 761.4 L1055.7 760.5 L1057.8 756.9 L1059.9 753.9 L1062.0 751.9 L1064.1 750.1 L1066.2 751.0 L1068.3 747.8 L1070.4 746.9 L1072.5 742.8 L1074.6 741.2 L1076.7 740.7 L1078.8 739.5 L1080.9 735.8 L1083.0 733.1 L1085.1 733.7 L1087.2 730.0 L1089.3 729.6 L1091.4 725.8 L1093.5 725.7 L1095.6 724.2 L1097.7 722.0 L1099.8 718.9 L1101.9 718.2 L1104.0 714.2 L1106.1 712.7 L1108.2 710.9 L1110.3 710.3 L1112.4 705.9 L1114.5 706.1 L1116.5 703.8 L1118.6 702.2 L1120.7 698.2 L1122.8 695.6 L1124.9 693.6 L1127.0 693.3 L1129.1 691.7 L1131.2 688.9 L1133.3 686.4 L1135.4 683.8 L1137.5 683.7 L1139.6 681.9 L1141.7 677.5 L1143.8 676.0 L1145.9 676.1 L1148.0 674.3 L1150.1 670.7 L1152.2 668.7 L1154.3 667.3 L1156.4 665.7 L1158.5 661.6 L1160.5 661.2 L1162.5 657.5 L1164.6 655.6 L1166.7 651.1 L1168.7 650.7 L1170.8 647.3 L1172.8 643.3 L1174.8 643.2 L1176.9 640.3 L1179.0 638.7 L1181.0 634.1 L1183.0 632.1 L1185.1 632.3 L1187.2 628.8 L1189.2 627.5 L1191.4 624.4 L1193.6 625.1 L1195.7 621.7 L1197.9 620.8 L1200.1 616.5 L1202.3 615.9 L1204.5 612.6 L1206.6 613.3 L1208.8 610.0 L1211.0 606.9 L1213.3 603.3 L1215.5 601.2 L1217.8 596.0 L1220.1 592.8 L1222.3 589.9 L1224.6 586.5 L1226.9 584.5 L1229.2 582.3 L1231.4 579.2 L1233.7 577.7 L1236.0 574.0 L1238.3 572.1 L1240.6 571.0 L1242.8 566.3 L1245.1 563.8 L1247.4 561.1 L1249.6 559.2 L1251.9 554.9 L1254.2 553.2 L1256.5 552.7 L1258.8 550.0 L1261.0 549.8 L1263.3 548.4 L1265.6 545.9 L1267.0 536.4" fill="none" stroke="#222" stroke-width="7.5" stroke-linejoin="round" stroke-linecap="round" />
<line x1="876.2" y1="913.9" x2="1267.7" y2="556.8" stroke="#e62c32" stroke-width="3.2"/>
<text x="777.5" y="583" font-size="32.2" font-weight="bold">E = 0.00232 t<tspan font-size="18" dy="-14">1/2</tspan><tspan dy="14"> +3.88638</tspan></text>
<text x="951" y="1021" font-size="31.5" font-weight="bold"><tspan>τ</tspan><tspan font-size="18" dy="-14" dx="1.5">1/2</tspan><tspan dy="14" dx="3"> / </tspan><tspan dx="-1">s</tspan><tspan font-size="18" dy="-14" dx="0">1/2</tspan></text>
<text transform="translate(672.7,724.6) rotate(-90)" font-size="32.5" font-weight="bold" text-anchor="middle">Voltage / V</text>
<text x="644.0" y="544.0" font-size="40" text-anchor="start" font-weight="bold" >(d)</text>
</g></svg>
</div>
</body></html>
